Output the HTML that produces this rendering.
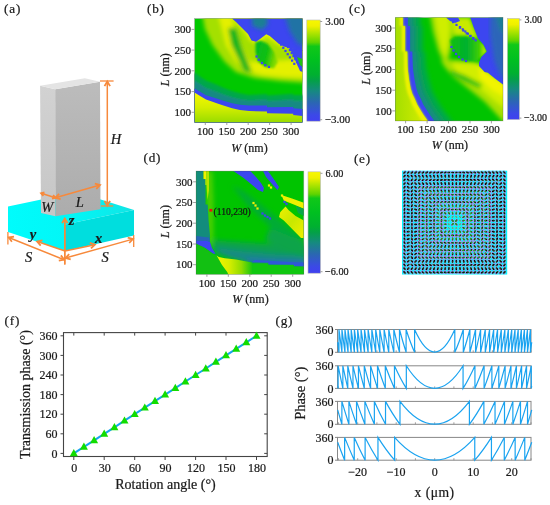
<!DOCTYPE html>
<html><head><meta charset="utf-8"><style>
html,body{margin:0;padding:0;background:#fff;}
svg{display:block;font-family:'Liberation Serif','Times New Roman',serif;fill:#1a1a1a;} text{stroke:#1a1a1a;stroke-width:0.22px;}
</style></head><body>
<svg width="550" height="505" viewBox="0 0 550 505">
<text x="4.1" y="12.9" font-size="13.2" text-anchor="start" letter-spacing="0.8">(a)</text>
<defs><linearGradient id="subt" x1="0" y1="0" x2="1" y2="0"><stop offset="0" stop-color="#00fcfc"/><stop offset="0.55" stop-color="#02f6f6"/><stop offset="1" stop-color="#12e4e4"/></linearGradient></defs>
<polygon points="8,206.5 77,192 134,210 65,224.5 65,251 8,232" fill="url(#subt)"/>
<polygon points="65,224.5 134,210 134,235.5 65,251" fill="#00dede"/>
<defs><linearGradient id="pf" x1="0" y1="0" x2="0" y2="1"><stop offset="0" stop-color="#bcbcbc"/><stop offset="1" stop-color="#acacac"/></linearGradient><linearGradient id="pl" x1="0" y1="0" x2="0" y2="1"><stop offset="0" stop-color="#d2d2d2"/><stop offset="1" stop-color="#c6c6c6"/></linearGradient></defs>
<polygon points="40.1,85.7 55.2,89.3 55.4,216.2 41,213" fill="url(#pl)"/>
<polygon points="55.2,89.3 100,81.8 100.5,209.2 55.4,216.2" fill="url(#pf)"/>
<polygon points="40.1,85.7 84.9,78.2 100,81.8 55.2,89.3" fill="#e4e4e4"/>
<line x1="100" y1="81" x2="113.6" y2="81" stroke="#f7893b" stroke-width="1.3"/>
<line x1="101" y1="206" x2="113.2" y2="206" stroke="#f7893b" stroke-width="1.3"/>
<line x1="107.3" y1="81.5" x2="107.3" y2="205.5" stroke="#f7893b" stroke-width="1.5"/>
<polyline points="104.5,200.9 107.3,205.5 110.1,200.9" fill="none" stroke="#f7893b" stroke-width="1.8" stroke-linejoin="miter"/>
<polyline points="110.1,86.1 107.3,81.5 104.5,86.1" fill="none" stroke="#f7893b" stroke-width="1.8" stroke-linejoin="miter"/>
<line x1="41.1" y1="193.3" x2="55.4" y2="197.7" stroke="#f7893b" stroke-width="1.5"/>
<polyline points="52.0,198.5 55.4,197.7 53.1,195.1" fill="none" stroke="#f7893b" stroke-width="1.8" stroke-linejoin="miter"/>
<polyline points="44.5,192.5 41.1,193.3 43.4,195.9" fill="none" stroke="#f7893b" stroke-width="1.8" stroke-linejoin="miter"/>
<line x1="55.4" y1="197.7" x2="100" y2="185" stroke="#f7893b" stroke-width="1.5"/>
<polyline points="96.3,188.9 100,185 94.8,183.6" fill="none" stroke="#f7893b" stroke-width="1.8" stroke-linejoin="miter"/>
<polyline points="59.1,193.8 55.4,197.7 60.6,199.1" fill="none" stroke="#f7893b" stroke-width="1.8" stroke-linejoin="miter"/>
<line x1="64.8" y1="264.5" x2="64.8" y2="219" stroke="#f7893b" stroke-width="1.3"/>
<line x1="64.8" y1="264.5" x2="64.8" y2="218.5" stroke="#f7893b" stroke-width="1.5"/>
<polyline points="67.6,223.1 64.8,218.5 62.0,223.1" fill="none" stroke="#f7893b" stroke-width="1.8" stroke-linejoin="miter"/>
<line x1="65" y1="251" x2="37.2" y2="241.5" stroke="#f7893b" stroke-width="1.5"/>
<polyline points="42.4,240.4 37.2,241.5 40.7,245.6" fill="none" stroke="#f7893b" stroke-width="1.8" stroke-linejoin="miter"/>
<line x1="65" y1="251" x2="94.9" y2="244.7" stroke="#f7893b" stroke-width="1.5"/>
<polyline points="91.0,248.3 94.9,244.7 89.8,242.9" fill="none" stroke="#f7893b" stroke-width="1.8" stroke-linejoin="miter"/>
<line x1="7.9" y1="232" x2="7.9" y2="244.6" stroke="#f7893b" stroke-width="1.3"/>
<line x1="133.7" y1="235" x2="133.7" y2="247" stroke="#f7893b" stroke-width="1.3"/>
<line x1="8.7" y1="237.5" x2="64.1" y2="259.7" stroke="#f7893b" stroke-width="1.5"/>
<polyline points="58.8,260.6 64.1,259.7 60.9,255.4" fill="none" stroke="#f7893b" stroke-width="1.8" stroke-linejoin="miter"/>
<polyline points="14.0,236.6 8.7,237.5 11.9,241.8" fill="none" stroke="#f7893b" stroke-width="1.8" stroke-linejoin="miter"/>
<line x1="65.5" y1="258" x2="132.9" y2="239.1" stroke="#f7893b" stroke-width="1.5"/>
<polyline points="129.2,243.0 132.9,239.1 127.7,237.7" fill="none" stroke="#f7893b" stroke-width="1.8" stroke-linejoin="miter"/>
<polyline points="69.2,254.1 65.5,258 70.7,259.4" fill="none" stroke="#f7893b" stroke-width="1.8" stroke-linejoin="miter"/>
<text x="116.0" y="144.3" font-size="14.5" text-anchor="middle" font-style="italic" >H</text>
<text x="47.4" y="212.2" font-size="14.5" text-anchor="middle" font-style="italic" >W</text>
<text x="79.8" y="206.5" font-size="14.5" text-anchor="middle" font-style="italic" >L</text>
<text x="71.5" y="225.3" font-size="14.5" text-anchor="middle" font-style="italic" font-weight="bold">z</text>
<text x="33.0" y="239.2" font-size="14.5" text-anchor="middle" font-style="italic" font-weight="bold">y</text>
<text x="98.5" y="242.5" font-size="14.5" text-anchor="middle" font-style="italic" font-weight="bold">x</text>
<text x="28.5" y="261.8" font-size="14.5" text-anchor="middle" font-style="italic" >S</text>
<text x="105.0" y="262.0" font-size="14.5" text-anchor="middle" font-style="italic" >S</text>
<text x="4.6" y="324.9" font-size="13.2" text-anchor="start" letter-spacing="0.8">(f)</text>
<rect x="63.5" y="332.6" width="203.7" height="123.89999999999998" fill="none" stroke="#444" stroke-width="1.1"/>
<line x1="60.5" y1="453.4" x2="63.5" y2="453.4" stroke="#444" stroke-width="1"/>
<line x1="267.2" y1="453.4" x2="264.2" y2="453.4" stroke="#444" stroke-width="1"/>
<text x="57.6" y="457.5" font-size="12" text-anchor="end" >0</text>
<line x1="60.5" y1="433.8" x2="63.5" y2="433.8" stroke="#444" stroke-width="1"/>
<line x1="267.2" y1="433.8" x2="264.2" y2="433.8" stroke="#444" stroke-width="1"/>
<text x="57.6" y="437.9" font-size="12" text-anchor="end" >60</text>
<line x1="60.5" y1="414.2" x2="63.5" y2="414.2" stroke="#444" stroke-width="1"/>
<line x1="267.2" y1="414.2" x2="264.2" y2="414.2" stroke="#444" stroke-width="1"/>
<text x="57.6" y="418.3" font-size="12" text-anchor="end" >120</text>
<line x1="60.5" y1="394.6" x2="63.5" y2="394.6" stroke="#444" stroke-width="1"/>
<line x1="267.2" y1="394.6" x2="264.2" y2="394.6" stroke="#444" stroke-width="1"/>
<text x="57.6" y="398.7" font-size="12" text-anchor="end" >180</text>
<line x1="60.5" y1="375.0" x2="63.5" y2="375.0" stroke="#444" stroke-width="1"/>
<line x1="267.2" y1="375.0" x2="264.2" y2="375.0" stroke="#444" stroke-width="1"/>
<text x="57.6" y="379.1" font-size="12" text-anchor="end" >240</text>
<line x1="60.5" y1="355.4" x2="63.5" y2="355.4" stroke="#444" stroke-width="1"/>
<line x1="267.2" y1="355.4" x2="264.2" y2="355.4" stroke="#444" stroke-width="1"/>
<text x="57.6" y="359.5" font-size="12" text-anchor="end" >300</text>
<line x1="60.5" y1="335.8" x2="63.5" y2="335.8" stroke="#444" stroke-width="1"/>
<line x1="267.2" y1="335.8" x2="264.2" y2="335.8" stroke="#444" stroke-width="1"/>
<text x="57.6" y="339.9" font-size="12" text-anchor="end" >360</text>
<line x1="73.8" y1="456.5" x2="73.8" y2="460.0" stroke="#444" stroke-width="1"/>
<line x1="73.8" y1="332.6" x2="73.8" y2="335.6" stroke="#444" stroke-width="1"/>
<text x="74.2" y="472.3" font-size="12" text-anchor="middle" >0</text>
<line x1="104.2" y1="456.5" x2="104.2" y2="460.0" stroke="#444" stroke-width="1"/>
<line x1="104.2" y1="332.6" x2="104.2" y2="335.6" stroke="#444" stroke-width="1"/>
<text x="104.7" y="472.3" font-size="12" text-anchor="middle" >30</text>
<line x1="134.7" y1="456.5" x2="134.7" y2="460.0" stroke="#444" stroke-width="1"/>
<line x1="134.7" y1="332.6" x2="134.7" y2="335.6" stroke="#444" stroke-width="1"/>
<text x="135.1" y="472.3" font-size="12" text-anchor="middle" >60</text>
<line x1="165.1" y1="456.5" x2="165.1" y2="460.0" stroke="#444" stroke-width="1"/>
<line x1="165.1" y1="332.6" x2="165.1" y2="335.6" stroke="#444" stroke-width="1"/>
<text x="165.5" y="472.3" font-size="12" text-anchor="middle" >90</text>
<line x1="195.6" y1="456.5" x2="195.6" y2="460.0" stroke="#444" stroke-width="1"/>
<line x1="195.6" y1="332.6" x2="195.6" y2="335.6" stroke="#444" stroke-width="1"/>
<text x="196.0" y="472.3" font-size="12" text-anchor="middle" >120</text>
<line x1="226.0" y1="456.5" x2="226.0" y2="460.0" stroke="#444" stroke-width="1"/>
<line x1="226.0" y1="332.6" x2="226.0" y2="335.6" stroke="#444" stroke-width="1"/>
<text x="226.4" y="472.3" font-size="12" text-anchor="middle" >150</text>
<line x1="256.5" y1="456.5" x2="256.5" y2="460.0" stroke="#444" stroke-width="1"/>
<line x1="256.5" y1="332.6" x2="256.5" y2="335.6" stroke="#444" stroke-width="1"/>
<text x="256.9" y="472.3" font-size="12" text-anchor="middle" >180</text>
<polyline points="73.8,453.4 83.9,446.9 94.1,440.3 104.2,433.8 114.4,427.3 124.5,420.7 134.7,414.2 144.8,407.7 155.0,401.1 165.1,394.6 175.3,388.1 185.4,381.5 195.6,375.0 205.8,368.5 215.9,361.9 226.0,355.4 236.2,348.9 246.3,342.3 256.5,335.8" fill="none" stroke="#1aa3f0" stroke-width="2.0"/>
<polygon points="73.8,449.1 77.8,456.3 69.8,456.3" fill="#11dd00"/>
<polygon points="83.9,442.6 87.9,449.8 79.9,449.8" fill="#11dd00"/>
<polygon points="94.1,436.0 98.1,443.2 90.1,443.2" fill="#11dd00"/>
<polygon points="104.2,429.5 108.2,436.7 100.2,436.7" fill="#11dd00"/>
<polygon points="114.4,423.0 118.4,430.2 110.4,430.2" fill="#11dd00"/>
<polygon points="124.5,416.4 128.5,423.6 120.5,423.6" fill="#11dd00"/>
<polygon points="134.7,409.9 138.7,417.1 130.7,417.1" fill="#11dd00"/>
<polygon points="144.8,403.4 148.8,410.6 140.8,410.6" fill="#11dd00"/>
<polygon points="155.0,396.8 159.0,404.0 151.0,404.0" fill="#11dd00"/>
<polygon points="165.1,390.3 169.1,397.5 161.1,397.5" fill="#11dd00"/>
<polygon points="175.3,383.8 179.3,391.0 171.3,391.0" fill="#11dd00"/>
<polygon points="185.4,377.2 189.4,384.4 181.4,384.4" fill="#11dd00"/>
<polygon points="195.6,370.7 199.6,377.9 191.6,377.9" fill="#11dd00"/>
<polygon points="205.8,364.2 209.8,371.4 201.8,371.4" fill="#11dd00"/>
<polygon points="215.9,357.6 219.9,364.8 211.9,364.8" fill="#11dd00"/>
<polygon points="226.0,351.1 230.0,358.3 222.0,358.3" fill="#11dd00"/>
<polygon points="236.2,344.6 240.2,351.8 232.2,351.8" fill="#11dd00"/>
<polygon points="246.3,338.0 250.3,345.2 242.3,345.2" fill="#11dd00"/>
<polygon points="256.5,331.5 260.5,338.7 252.5,338.7" fill="#11dd00"/>
<text x="165.5" y="488.5" font-size="14" text-anchor="middle" >Rotation angle (°)</text>
<text transform="translate(29.5,394.5) rotate(-90)" font-size="14" text-anchor="middle">Transmission phase (°)</text>
<text x="275.5" y="325.0" font-size="13.2" text-anchor="start" letter-spacing="0.8">(g)</text>
<rect x="337.5" y="329.5" width="193.5" height="22.80000000000001" fill="none" stroke="#888" stroke-width="1"/>
<line x1="335.0" y1="329.5" x2="337.5" y2="329.5" stroke="#888" stroke-width="1"/>
<text x="333.5" y="333.6" font-size="12" text-anchor="end" >360</text>
<line x1="335.0" y1="352.3" x2="337.5" y2="352.3" stroke="#888" stroke-width="1"/>
<text x="333.5" y="356.4" font-size="12" text-anchor="end" >0</text>
<line x1="338.4" y1="352.3" x2="338.4" y2="350.3" stroke="#888" stroke-width="0.8"/>
<line x1="357.7" y1="352.3" x2="357.7" y2="350.3" stroke="#888" stroke-width="0.8"/>
<line x1="376.9" y1="352.3" x2="376.9" y2="350.3" stroke="#888" stroke-width="0.8"/>
<line x1="396.2" y1="352.3" x2="396.2" y2="350.3" stroke="#888" stroke-width="0.8"/>
<line x1="415.4" y1="352.3" x2="415.4" y2="350.3" stroke="#888" stroke-width="0.8"/>
<line x1="434.7" y1="352.3" x2="434.7" y2="350.3" stroke="#888" stroke-width="0.8"/>
<line x1="453.9" y1="352.3" x2="453.9" y2="350.3" stroke="#888" stroke-width="0.8"/>
<line x1="473.2" y1="352.3" x2="473.2" y2="350.3" stroke="#888" stroke-width="0.8"/>
<line x1="492.4" y1="352.3" x2="492.4" y2="350.3" stroke="#888" stroke-width="0.8"/>
<line x1="511.7" y1="352.3" x2="511.7" y2="350.3" stroke="#888" stroke-width="0.8"/>
<line x1="531.0" y1="352.3" x2="531.0" y2="350.3" stroke="#888" stroke-width="0.8"/>
<path d="M337.68,342.29Q338.33,347.33 338.97,352.30L338.97,329.50Q340.47,341.08 341.94,352.30L341.94,329.50Q343.46,341.09 344.96,352.30L344.96,329.50Q346.51,341.10 348.04,352.30L348.04,329.50Q349.62,341.11 351.18,352.30L351.18,329.50Q352.80,341.12 354.39,352.30L354.39,329.50Q356.04,341.14 357.67,352.30L357.67,329.50Q359.37,341.16 361.05,352.30L361.05,329.50Q362.80,341.18 364.52,352.30L364.52,329.50Q366.33,341.20 368.11,352.30L368.11,329.50Q369.99,341.23 371.84,352.30L371.84,329.50Q373.80,341.26 375.72,352.30L375.72,329.50Q377.78,341.31 379.81,352.30L379.81,329.50Q381.99,341.37 384.13,352.30L384.13,329.50Q386.48,341.45 388.78,352.30L388.78,329.50Q391.33,341.56 393.83,352.30L393.83,329.50Q396.69,341.75 399.49,352.30L399.49,329.50Q402.83,342.08 406.10,352.30L406.10,329.50Q410.39,342.89 414.59,352.30L414.59,329.50Q434.70,374.62 454.81,329.50L454.81,352.30Q459.01,342.89 463.30,329.50L463.30,352.30Q466.57,342.08 469.91,329.50L469.91,352.30Q472.71,341.75 475.57,329.50L475.57,352.30Q478.07,341.56 480.62,329.50L480.62,352.30Q482.92,341.45 485.27,329.50L485.27,352.30Q487.41,341.37 489.59,329.50L489.59,352.30Q491.62,341.31 493.68,329.50L493.68,352.30Q495.60,341.26 497.56,329.50L497.56,352.30Q499.41,341.23 501.29,329.50L501.29,352.30Q503.07,341.20 504.88,329.50L504.88,352.30Q506.60,341.18 508.35,329.50L508.35,352.30Q510.03,341.16 511.73,329.50L511.73,352.30Q513.36,341.14 515.01,329.50L515.01,352.30Q516.60,341.12 518.22,329.50L518.22,352.30Q519.78,341.11 521.36,329.50L521.36,352.30Q522.89,341.10 524.44,329.50L524.44,352.30Q525.94,341.09 527.46,329.50L527.46,352.30Q528.93,341.08 530.43,329.50L530.43,352.30Q531.07,347.33 531.72,342.29" fill="none" stroke="#1aa3f0" stroke-width="1.2"/>
<rect x="337.5" y="365.8" width="193.5" height="22.599999999999966" fill="none" stroke="#888" stroke-width="1"/>
<line x1="335.0" y1="365.8" x2="337.5" y2="365.8" stroke="#888" stroke-width="1"/>
<text x="333.5" y="369.9" font-size="12" text-anchor="end" >360</text>
<line x1="335.0" y1="388.4" x2="337.5" y2="388.4" stroke="#888" stroke-width="1"/>
<text x="333.5" y="392.5" font-size="12" text-anchor="end" >0</text>
<line x1="338.4" y1="388.4" x2="338.4" y2="386.4" stroke="#888" stroke-width="0.8"/>
<line x1="357.7" y1="388.4" x2="357.7" y2="386.4" stroke="#888" stroke-width="0.8"/>
<line x1="376.9" y1="388.4" x2="376.9" y2="386.4" stroke="#888" stroke-width="0.8"/>
<line x1="396.2" y1="388.4" x2="396.2" y2="386.4" stroke="#888" stroke-width="0.8"/>
<line x1="415.4" y1="388.4" x2="415.4" y2="386.4" stroke="#888" stroke-width="0.8"/>
<line x1="434.7" y1="388.4" x2="434.7" y2="386.4" stroke="#888" stroke-width="0.8"/>
<line x1="453.9" y1="388.4" x2="453.9" y2="386.4" stroke="#888" stroke-width="0.8"/>
<line x1="473.2" y1="388.4" x2="473.2" y2="386.4" stroke="#888" stroke-width="0.8"/>
<line x1="492.4" y1="388.4" x2="492.4" y2="386.4" stroke="#888" stroke-width="0.8"/>
<line x1="511.7" y1="388.4" x2="511.7" y2="386.4" stroke="#888" stroke-width="0.8"/>
<line x1="531.0" y1="388.4" x2="531.0" y2="386.4" stroke="#888" stroke-width="0.8"/>
<path d="M337.68,386.25Q337.90,387.33 338.12,388.40L338.12,365.80Q340.50,377.38 342.85,388.40L342.85,365.80Q345.33,377.41 347.79,388.40L347.79,365.80Q350.39,377.45 352.97,388.40L352.97,365.80Q355.72,377.49 358.45,388.40L358.45,365.80Q361.38,377.55 364.29,388.40L364.29,365.80Q367.45,377.63 370.59,388.40L370.59,365.80Q374.07,377.74 377.51,388.40L377.51,365.80Q381.43,377.93 385.30,388.40L385.30,365.80Q389.91,378.26 394.47,388.40L394.47,365.80Q400.43,379.05 406.33,388.40L406.33,365.80Q434.70,410.76 463.07,365.80L463.07,388.40Q468.97,379.05 474.93,365.80L474.93,388.40Q479.49,378.26 484.10,365.80L484.10,388.40Q487.97,377.93 491.89,365.80L491.89,388.40Q495.33,377.74 498.81,365.80L498.81,388.40Q501.95,377.63 505.11,365.80L505.11,388.40Q508.02,377.55 510.95,365.80L510.95,388.40Q513.68,377.49 516.43,365.80L516.43,388.40Q519.01,377.45 521.61,365.80L521.61,388.40Q524.07,377.41 526.55,365.80L526.55,388.40Q528.90,377.38 531.28,365.80L531.28,388.40Q531.50,387.33 531.72,386.25" fill="none" stroke="#1aa3f0" stroke-width="1.2"/>
<rect x="337.5" y="401.4" width="193.5" height="22.900000000000034" fill="none" stroke="#888" stroke-width="1"/>
<line x1="335.0" y1="401.4" x2="337.5" y2="401.4" stroke="#888" stroke-width="1"/>
<text x="333.5" y="405.5" font-size="12" text-anchor="end" >360</text>
<line x1="335.0" y1="424.3" x2="337.5" y2="424.3" stroke="#888" stroke-width="1"/>
<text x="333.5" y="428.4" font-size="12" text-anchor="end" >0</text>
<line x1="338.4" y1="424.3" x2="338.4" y2="422.3" stroke="#888" stroke-width="0.8"/>
<line x1="357.7" y1="424.3" x2="357.7" y2="422.3" stroke="#888" stroke-width="0.8"/>
<line x1="376.9" y1="424.3" x2="376.9" y2="422.3" stroke="#888" stroke-width="0.8"/>
<line x1="396.2" y1="424.3" x2="396.2" y2="422.3" stroke="#888" stroke-width="0.8"/>
<line x1="415.4" y1="424.3" x2="415.4" y2="422.3" stroke="#888" stroke-width="0.8"/>
<line x1="434.7" y1="424.3" x2="434.7" y2="422.3" stroke="#888" stroke-width="0.8"/>
<line x1="453.9" y1="424.3" x2="453.9" y2="422.3" stroke="#888" stroke-width="0.8"/>
<line x1="473.2" y1="424.3" x2="473.2" y2="422.3" stroke="#888" stroke-width="0.8"/>
<line x1="492.4" y1="424.3" x2="492.4" y2="422.3" stroke="#888" stroke-width="0.8"/>
<line x1="511.7" y1="424.3" x2="511.7" y2="422.3" stroke="#888" stroke-width="0.8"/>
<line x1="531.0" y1="424.3" x2="531.0" y2="422.3" stroke="#888" stroke-width="0.8"/>
<path d="M337.68,409.86Q339.78,417.24 341.88,424.30L341.88,401.40Q345.41,413.30 348.91,424.30L348.91,401.40Q352.73,413.38 356.53,424.30L356.53,401.40Q360.73,413.50 364.90,424.30L364.90,401.40Q369.65,413.68 374.36,424.30L374.36,401.40Q379.96,414.02 385.52,424.30L385.52,401.40Q392.78,414.82 399.99,424.30L399.99,401.40Q434.70,447.04 469.41,401.40L469.41,424.30Q476.62,414.82 483.88,401.40L483.88,424.30Q489.44,414.02 495.04,401.40L495.04,424.30Q499.75,413.68 504.50,401.40L504.50,424.30Q508.67,413.50 512.87,401.40L512.87,424.30Q516.67,413.38 520.49,401.40L520.49,424.30Q523.99,413.30 527.52,401.40L527.52,424.30Q529.62,417.24 531.72,409.86" fill="none" stroke="#1aa3f0" stroke-width="1.2"/>
<rect x="337.5" y="437.4" width="193.5" height="22.80000000000001" fill="none" stroke="#888" stroke-width="1"/>
<line x1="335.0" y1="437.4" x2="337.5" y2="437.4" stroke="#888" stroke-width="1"/>
<text x="333.5" y="441.5" font-size="12" text-anchor="end" >360</text>
<line x1="335.0" y1="460.2" x2="337.5" y2="460.2" stroke="#888" stroke-width="1"/>
<text x="333.5" y="464.3" font-size="12" text-anchor="end" >0</text>
<line x1="338.4" y1="460.2" x2="338.4" y2="458.2" stroke="#888" stroke-width="0.8"/>
<line x1="357.7" y1="460.2" x2="357.7" y2="458.2" stroke="#888" stroke-width="0.8"/>
<line x1="376.9" y1="460.2" x2="376.9" y2="458.2" stroke="#888" stroke-width="0.8"/>
<line x1="396.2" y1="460.2" x2="396.2" y2="458.2" stroke="#888" stroke-width="0.8"/>
<line x1="415.4" y1="460.2" x2="415.4" y2="458.2" stroke="#888" stroke-width="0.8"/>
<line x1="434.7" y1="460.2" x2="434.7" y2="458.2" stroke="#888" stroke-width="0.8"/>
<line x1="453.9" y1="460.2" x2="453.9" y2="458.2" stroke="#888" stroke-width="0.8"/>
<line x1="473.2" y1="460.2" x2="473.2" y2="458.2" stroke="#888" stroke-width="0.8"/>
<line x1="492.4" y1="460.2" x2="492.4" y2="458.2" stroke="#888" stroke-width="0.8"/>
<line x1="511.7" y1="460.2" x2="511.7" y2="458.2" stroke="#888" stroke-width="0.8"/>
<line x1="531.0" y1="460.2" x2="531.0" y2="458.2" stroke="#888" stroke-width="0.8"/>
<path d="M337.68,442.20Q341.16,451.53 344.63,460.20L344.63,437.40Q349.45,449.44 354.25,460.20L354.25,437.40Q359.70,449.63 365.12,460.20L365.12,437.40Q371.56,449.96 377.96,460.20L377.96,437.40Q386.32,450.76 394.64,460.20L394.64,437.40Q434.70,482.88 474.76,437.40L474.76,460.20Q483.08,450.76 491.44,437.40L491.44,460.20Q497.84,449.96 504.28,437.40L504.28,460.20Q509.70,449.63 515.15,437.40L515.15,460.20Q519.95,449.44 524.77,437.40L524.77,460.20Q528.24,451.53 531.72,442.20" fill="none" stroke="#1aa3f0" stroke-width="1.2"/>
<text x="357.7" y="476.0" font-size="12" text-anchor="middle" >−20</text>
<text x="396.2" y="476.0" font-size="12" text-anchor="middle" >−10</text>
<text x="434.7" y="476.0" font-size="12" text-anchor="middle" >0</text>
<text x="473.2" y="476.0" font-size="12" text-anchor="middle" >10</text>
<text x="511.7" y="476.0" font-size="12" text-anchor="middle" >20</text>
<text x="434.5" y="497.3" font-size="13.6" text-anchor="middle" letter-spacing="0.45">x (μm)</text>
<text transform="translate(305.3,393.2) rotate(-90)" font-size="14.6" text-anchor="middle">Phase (°)</text>
<defs><filter id="blb" x="-10%" y="-10%" width="120%" height="120%"><feGaussianBlur stdDeviation="2.0"/></filter><filter id="blb2" x="-10%" y="-10%" width="120%" height="120%"><feGaussianBlur stdDeviation="1.2"/></filter><linearGradient id="bell" x1="0" y1="0" x2="1" y2="0.3"><stop offset="0" stop-color="#00b828"/><stop offset="0.6" stop-color="#10c010"/><stop offset="1" stop-color="#80da00"/></linearGradient><linearGradient id="byel" x1="0" y1="0" x2="0" y2="1"><stop offset="0" stop-color="#f8f800"/><stop offset="0.5" stop-color="#d4ee00"/><stop offset="1" stop-color="#98dc00"/></linearGradient></defs>
<svg x="194.5" y="18.5" width="108.0" height="104.0" viewBox="194.5 18.5 108.0 104.0" overflow="hidden">
<rect x="194.5" y="18.5" width="108.0" height="104.0" fill="#00c800"/>
<g filter="url(#blb)">
<polygon points="202.0,10.0 203.0,18.5 205.0,29.0 212.5,45.0 224.5,61.6 236.0,72.0 255.0,78.0 280.0,81.0 310.0,83.0 310.0,10.0" fill="#a4e000"/>
<polygon points="218.0,10.0 219.0,18.5 222.0,29.0 226.0,45.0 236.0,61.6 246.0,70.0 262.0,75.0 285.0,77.0 310.0,78.0 310.0,60.0 290.0,60.0 262.0,62.0 250.0,62.0 244.0,50.0 236.0,34.0 232.0,18.5 232.0,10.0" fill="#e4f000"/>
<polygon points="226.0,10.0 234.0,18.5 240.0,26.0 246.0,33.0 250.0,40.0 256.0,43.0 262.0,40.0 266.0,36.0 280.0,45.0 300.0,52.0 310.0,54.0 310.0,10.0" fill="#eef400"/>
<polygon points="228.0,28.0 236.0,28.0 241.0,45.0 247.5,61.6 252.0,72.0 245.0,72.0 239.5,61.6 231.5,45.0" fill="#08b41a"/>
</g>
<polygon points="255.5,42.3 260.9,40.7 267.5,43.8 274.0,52.1 277.7,61.9 274.0,68.5 265.3,66.9 258.1,61.3 255.5,52.1" fill="url(#bell)" filter="url(#blb2)"/>
<rect x="255.5" y="55.4" width="2.2" height="2.2" fill="#3c46f0"/>
<rect x="257.6" y="58.6" width="2.2" height="2.2" fill="#3c46f0"/>
<rect x="260.9" y="61.9" width="2.2" height="2.2" fill="#3c46f0"/>
<rect x="264.2" y="64.1" width="2.2" height="2.2" fill="#3c46f0"/>
<rect x="267.9" y="65.8" width="2.2" height="2.2" fill="#3c46f0"/>
<polygon points="289.0,47.5 302.5,50.0 302.5,72.0 300.0,71.0 296.0,62.0 292.0,53.0" fill="#3c46f0"/>
<polygon points="297.0,57.0 302.5,59.0 302.5,67.0 300.0,65.0" fill="#20c410"/>
<rect x="280.0" y="43.5" width="2.2" height="2.2" fill="#3c46f0"/>
<rect x="287.0" y="46.0" width="2.2" height="2.2" fill="#3c46f0"/>
<rect x="282.2" y="46.7" width="2.2" height="2.2" fill="#3c46f0"/>
<rect x="288.8" y="49.0" width="2.2" height="2.2" fill="#3c46f0"/>
<rect x="284.4" y="49.9" width="2.2" height="2.2" fill="#3c46f0"/>
<rect x="290.6" y="52.0" width="2.2" height="2.2" fill="#3c46f0"/>
<rect x="286.6" y="53.1" width="2.2" height="2.2" fill="#3c46f0"/>
<rect x="292.4" y="55.0" width="2.2" height="2.2" fill="#3c46f0"/>
<rect x="288.8" y="56.3" width="2.2" height="2.2" fill="#3c46f0"/>
<rect x="294.2" y="58.0" width="2.2" height="2.2" fill="#3c46f0"/>
<rect x="291.0" y="59.5" width="2.2" height="2.2" fill="#3c46f0"/>
<rect x="296.0" y="61.0" width="2.2" height="2.2" fill="#3c46f0"/>
<rect x="293.2" y="62.7" width="2.2" height="2.2" fill="#3c46f0"/>
<rect x="297.8" y="64.0" width="2.2" height="2.2" fill="#3c46f0"/>
<polygon points="232.0,18.5 236.0,22.0 240.0,26.0 244.0,30.0 248.0,34.0 251.5,40.6 256.0,41.7 260.0,38.9 266.3,34.3 269.8,36.0 274.4,40.0 279.0,44.0 284.0,46.5 289.0,48.0 296.0,49.5 302.5,50.9 302.5,18.5" fill="#3c46f0"/>
<g filter="url(#blb)" opacity="0.85"><polygon points="252.0,14.0 266.0,14.0 268.0,24.0 262.0,30.0 252.0,26.0" fill="#168a84"/><polygon points="284.0,14.0 310.0,14.0 310.0,48.0 298.0,44.0 290.0,32.0" fill="#1f7c98"/></g>
<g filter="url(#blb2)">
<polygon points="188.0,72.5 194.5,72.5 200.5,76.7 206.0,80.4 212.5,83.1 217.4,85.1 223.4,87.7 232.1,91.1 239.8,93.3 249.0,95.0 267.0,93.9 267.0,95.5 293.2,93.7 293.2,94.9 302.5,95.0 310.0,95.0 310.0,130.0 188.0,130.0" fill="#06a84a"/>
<polygon points="188.0,80.5 194.5,80.5 200.5,84.5 206.0,87.9 212.5,90.3 217.4,92.0 223.4,94.4 232.1,97.3 239.8,99.2 249.0,100.5 267.0,99.6 267.0,101.2 293.2,99.6 293.2,100.8 302.5,101.0 310.0,101.0 310.0,130.0 188.0,130.0" fill="#168a84"/>
</g>
<polygon points="188.0,88.5 194.5,88.5 200.5,92.1 206.0,95.3 212.5,97.3 217.4,98.8 223.4,100.8 232.1,103.3 239.8,104.8 249.0,105.5 267.0,105.6 267.0,107.2 293.2,107.1 293.2,108.3 302.5,109.0 310.0,109.0 310.0,130.0 188.0,130.0" fill="#3c46f0"/>
<polygon points="194.5,92.5 200.5,96.3 206.0,99.6 212.5,101.8 217.4,103.4 223.4,105.6 232.1,108.3 239.8,110.0 249.0,111.0 267.0,111.6 267.0,113.2 293.2,113.8 293.2,115.0 302.5,116.0 302.5,122.5 194.5,122.5" fill="url(#byel)"/>
</svg>
<text x="147.0" y="13.1" font-size="13.2" text-anchor="start" letter-spacing="0.8">(b)</text>
<rect x="194.5" y="18.5" width="108.0" height="104.0" fill="none" stroke="#444" stroke-opacity="0.45" stroke-width="0.6"/>
<line x1="205.3" y1="122.5" x2="205.3" y2="125.0" stroke="#888" stroke-width="0.8"/>
<text x="205.3" y="135.2" font-size="11" text-anchor="middle" >100</text>
<line x1="226.8" y1="122.5" x2="226.8" y2="125.0" stroke="#888" stroke-width="0.8"/>
<text x="226.8" y="135.2" font-size="11" text-anchor="middle" >150</text>
<line x1="248.2" y1="122.5" x2="248.2" y2="125.0" stroke="#888" stroke-width="0.8"/>
<text x="248.2" y="135.2" font-size="11" text-anchor="middle" >200</text>
<line x1="269.6" y1="122.5" x2="269.6" y2="125.0" stroke="#888" stroke-width="0.8"/>
<text x="269.6" y="135.2" font-size="11" text-anchor="middle" >250</text>
<line x1="291.1" y1="122.5" x2="291.1" y2="125.0" stroke="#888" stroke-width="0.8"/>
<text x="291.1" y="135.2" font-size="11" text-anchor="middle" >300</text>
<line x1="191.5" y1="112.3" x2="194.5" y2="112.3" stroke="#888" stroke-width="0.8"/>
<text x="190.9" y="116.0" font-size="11" text-anchor="end" >100</text>
<line x1="191.5" y1="91.6" x2="194.5" y2="91.6" stroke="#888" stroke-width="0.8"/>
<text x="190.9" y="95.3" font-size="11" text-anchor="end" >150</text>
<line x1="191.5" y1="70.8" x2="194.5" y2="70.8" stroke="#888" stroke-width="0.8"/>
<text x="190.9" y="74.5" font-size="11" text-anchor="end" >200</text>
<line x1="191.5" y1="50.1" x2="194.5" y2="50.1" stroke="#888" stroke-width="0.8"/>
<text x="190.9" y="53.8" font-size="11" text-anchor="end" >250</text>
<line x1="191.5" y1="29.4" x2="194.5" y2="29.4" stroke="#888" stroke-width="0.8"/>
<text x="190.9" y="33.1" font-size="11" text-anchor="end" >300</text>
<text x="249.5" y="151.6" font-size="12" text-anchor="middle"><tspan font-style="italic">W</tspan> (nm)</text>
<text transform="translate(168.6,69.8) rotate(-90)" font-size="12" text-anchor="middle"><tspan font-style="italic">L</tspan> (nm)</text>
<defs><linearGradient id="cb1" x1="0" y1="0" x2="0" y2="1"><stop offset="0.00" stop-color="#f8f800"/><stop offset="0.06" stop-color="#f0f000"/><stop offset="0.12" stop-color="#b8e600"/><stop offset="0.22" stop-color="#60d400"/><stop offset="0.26" stop-color="#10c818"/><stop offset="0.40" stop-color="#00c020"/><stop offset="0.54" stop-color="#00b030"/><stop offset="0.60" stop-color="#04a048"/><stop offset="0.70" stop-color="#168a80"/><stop offset="0.81" stop-color="#2a68b0"/><stop offset="0.94" stop-color="#3c48e8"/><stop offset="1.00" stop-color="#4040f0"/></linearGradient></defs>
<rect x="306.8" y="20" width="13.4" height="101.2" fill="url(#cb1)" stroke="#bbb" stroke-width="0.6"/>
<line x1="320.2" y1="21.5" x2="322.2" y2="21.5" stroke="#888" stroke-width="0.8"/>
<line x1="320.2" y1="119.7" x2="322.2" y2="119.7" stroke="#888" stroke-width="0.8"/>
<text x="325.2" y="25.1" font-size="11" text-anchor="start" >3.00</text>
<text x="324.7" y="123.3" font-size="11" text-anchor="start" >−3.00</text>
<defs><filter id="blc" x="-10%" y="-10%" width="120%" height="120%"><feGaussianBlur stdDeviation="2.2"/></filter><filter id="blc2" x="-10%" y="-10%" width="120%" height="120%"><feGaussianBlur stdDeviation="1.0"/></filter><linearGradient id="cyl" x1="0" y1="0" x2="1" y2="0"><stop offset="0" stop-color="#9cdc00"/><stop offset="1" stop-color="#d8ee00"/></linearGradient><linearGradient id="ceye" x1="0" y1="0" x2="1" y2="0"><stop offset="0" stop-color="#10c010"/><stop offset="0.45" stop-color="#00b030"/><stop offset="0.8" stop-color="#40d000"/><stop offset="1" stop-color="#e0f000"/></linearGradient></defs>
<svg x="395.3" y="17.4" width="107.69999999999999" height="103.5" viewBox="395.3 17.4 107.69999999999999 103.5" overflow="hidden">
<rect x="395.3" y="17.4" width="107.69999999999999" height="103.5" fill="#00c400"/>
<g filter="url(#blc)">
<polygon points="429.0,10.0 452.0,10.0 454.0,30.0 452.0,45.0 448.0,62.0 444.0,64.0 438.0,50.0 433.0,32.0" fill="#9ade00"/>
<polygon points="434.0,10.0 449.0,10.0 450.0,30.0 448.0,45.0 446.0,58.0 441.0,48.0 437.0,30.0" fill="#cfee00"/>
<polygon points="441.0,60.0 456.0,60.0 476.0,62.0 486.0,70.0 510.0,86.0 510.0,130.0 500.0,118.0 485.0,102.0 469.0,89.0 452.5,76.0 444.0,66.0" fill="#a6e000"/>
<polygon points="452.0,63.0 476.0,63.0 486.0,70.0 510.0,86.0 510.0,112.0 496.0,102.0 482.0,90.0 466.0,80.0 455.0,70.0" fill="#d2ee00"/>
<polygon points="478.0,62.0 487.0,72.0 510.0,86.0 510.0,100.0 492.0,90.0 480.0,78.0" fill="#f2f400"/>
<polygon points="451.0,70.0 465.0,75.5 482.0,84.5 480.0,88.0 463.0,81.0 451.0,74.0" fill="#10c010"/>
<polygon points="452.0,17.0 470.0,17.0 478.0,36.0 486.0,50.0 480.0,40.0 466.0,36.0 454.0,36.0" fill="#c8ea00"/>
<polygon points="402.9,10.0 402.9,26.0 405.1,26.0 405.1,51.5 407.3,51.5 407.6,66.0 407.9,70.4 409.0,79.3 410.6,88.2 412.3,93.7 414.5,98.2 417.3,104.8 420.6,110.3 423.4,114.8 427.3,120.3 428.0,125.0 452.8,125.0 451.6,120.3 447.2,114.8 443.9,110.3 440.0,104.8 436.5,98.2 433.8,93.7 431.6,88.2 429.0,79.3 427.0,70.4 426.2,66.0 425.3,51.5 423.1,51.5 423.1,26.0 420.9,26.0 420.9,10.0" fill="#04ac44"/>
<polygon points="402.9,10.0 402.9,26.0 405.1,26.0 405.1,51.5 407.3,51.5 407.6,66.0 407.9,70.4 409.0,79.3 410.6,88.2 412.3,93.7 414.5,98.2 417.3,104.8 420.6,110.3 423.4,114.8 427.3,120.3 428.0,125.0 445.9,125.0 444.9,120.3 440.6,114.8 437.4,110.3 433.7,104.8 430.4,98.2 427.9,93.7 425.7,88.2 423.5,79.3 421.7,70.4 421.1,66.0 420.3,51.5 418.1,51.5 418.1,26.0 415.9,26.0 415.9,10.0" fill="#0a9c5c"/>
<polygon points="402.9,10.0 402.9,26.0 405.1,26.0 405.1,51.5 407.3,51.5 407.6,66.0 407.9,70.4 409.0,79.3 410.6,88.2 412.3,93.7 414.5,98.2 417.3,104.8 420.6,110.3 423.4,114.8 427.3,120.3 428.0,125.0 440.4,125.0 439.5,120.3 435.3,114.8 432.2,110.3 428.7,104.8 425.5,98.2 423.1,93.7 421.1,88.2 419.0,79.3 417.4,70.4 416.9,66.0 416.3,51.5 414.1,51.5 414.1,26.0 411.9,26.0 411.9,10.0" fill="#168a84"/>
</g>
<polygon points="402.9,10.0 402.9,26.0 405.1,26.0 405.1,51.5 407.3,51.5 407.6,66.0 407.9,70.4 409.0,79.3 410.6,88.2 412.3,93.7 414.5,98.2 417.3,104.8 420.6,110.3 423.4,114.8 427.3,120.3 428.0,125.0 434.6,125.0 433.8,120.3 429.8,114.8 426.9,110.3 423.4,104.8 420.5,98.2 418.1,93.7 416.3,88.2 414.5,79.3 413.2,70.4 412.8,66.0 412.3,51.5 410.1,51.5 410.1,26.0 407.9,26.0 407.9,10.0" fill="#3c46f0"/>
<polygon points="390.0,10.0 402.9,10.0 402.9,26.0 405.1,26.0 405.1,51.5 407.3,51.5 407.6,66.0 407.9,70.4 409.0,79.3 410.6,88.2 412.3,93.7 414.5,98.2 417.3,104.8 420.6,110.3 423.4,114.8 427.3,120.3 428.0,125.0 390.0,125.0" fill="url(#cyl)"/>
<polygon points="402.9,10.0 402.9,26.0 405.1,26.0 405.1,51.5 407.3,51.5 407.6,66.0 407.9,70.4 409.0,79.3 410.6,88.2 412.3,93.7 414.5,98.2 417.3,104.8 420.6,110.3 423.4,114.8 427.3,120.3 428.0,125.0 422.2,125.0 421.7,120.3 418.0,114.8 415.4,110.3 412.3,104.8 409.8,98.2 407.8,93.7 406.3,88.2 405.0,79.3 404.3,70.4 404.2,66.0 404.1,51.5 401.9,51.5 401.9,26.0 399.7,26.0 399.7,10.0" fill="#f0f200" filter="url(#blc2)"/>
<polygon points="450.0,40.0 451.7,46.5 455.0,53.0 459.8,57.9 466.3,60.8 476.9,61.1 482.6,56.3 486.7,51.4 484.0,45.0 478.0,39.5 466.0,37.0 455.0,37.5" fill="url(#ceye)" filter="url(#blc2)"/>
<rect x="450.4" y="45.9" width="2.2" height="2.2" fill="#3c46f0"/>
<rect x="452.4" y="49.4" width="2.2" height="2.2" fill="#3c46f0"/>
<rect x="454.9" y="52.9" width="2.2" height="2.2" fill="#3c46f0"/>
<rect x="457.9" y="55.9" width="2.2" height="2.2" fill="#3c46f0"/>
<rect x="461.4" y="58.4" width="2.2" height="2.2" fill="#3c46f0"/>
<rect x="464.9" y="59.9" width="2.2" height="2.2" fill="#3c46f0"/>
<polygon points="446.0,17.4 458.0,17.4 460.0,21.0 455.0,23.0 450.0,21.0" fill="#3c46f0"/>
<polygon points="470.2,17.4 473.5,27.1 477.9,38.2 483.5,44.8 486.8,51.5 481.3,57.0 479.0,62.6 479.0,65.9 484.6,72.0 487.9,72.7 494.6,78.2 503.0,84.6 503.0,17.4" fill="#3c46f0"/>
<g filter="url(#blc)" opacity="0.85"><polygon points="490.0,10.0 510.0,10.0 510.0,80.0 500.0,76.0 494.0,60.0 490.0,35.0" fill="#2a6cb0"/><polygon points="494.0,10.0 510.0,10.0 510.0,40.0 500.0,30.0" fill="#168a84"/></g>
<rect x="452.0" y="21.0" width="2.2" height="2.2" fill="#3c46f0"/>
<rect x="459.0" y="26.0" width="2.2" height="2.2" fill="#3c46f0"/>
<rect x="455.4" y="23.8" width="2.2" height="2.2" fill="#3c46f0"/>
<rect x="461.6" y="28.2" width="2.2" height="2.2" fill="#3c46f0"/>
<rect x="458.8" y="26.6" width="2.2" height="2.2" fill="#3c46f0"/>
<rect x="464.2" y="30.4" width="2.2" height="2.2" fill="#3c46f0"/>
<rect x="462.2" y="29.4" width="2.2" height="2.2" fill="#3c46f0"/>
<rect x="466.8" y="32.6" width="2.2" height="2.2" fill="#3c46f0"/>
<rect x="465.6" y="32.2" width="2.2" height="2.2" fill="#3c46f0"/>
<rect x="469.4" y="34.8" width="2.2" height="2.2" fill="#3c46f0"/>
<rect x="469.0" y="35.0" width="2.2" height="2.2" fill="#3c46f0"/>
<rect x="472.0" y="37.0" width="2.2" height="2.2" fill="#3c46f0"/>
<rect x="472.4" y="37.8" width="2.2" height="2.2" fill="#3c46f0"/>
<rect x="474.6" y="39.2" width="2.2" height="2.2" fill="#3c46f0"/>
</svg>
<text x="348.9" y="13.1" font-size="13.2" text-anchor="start" letter-spacing="0.8">(c)</text>
<rect x="395.3" y="17.4" width="107.7" height="103.5" fill="none" stroke="#444" stroke-opacity="0.45" stroke-width="0.6"/>
<line x1="405.6" y1="120.9" x2="405.6" y2="123.4" stroke="#888" stroke-width="0.8"/>
<text x="405.6" y="133.4" font-size="11" text-anchor="middle" >100</text>
<line x1="427.1" y1="120.9" x2="427.1" y2="123.4" stroke="#888" stroke-width="0.8"/>
<text x="427.1" y="133.4" font-size="11" text-anchor="middle" >150</text>
<line x1="448.5" y1="120.9" x2="448.5" y2="123.4" stroke="#888" stroke-width="0.8"/>
<text x="448.5" y="133.4" font-size="11" text-anchor="middle" >200</text>
<line x1="470.0" y1="120.9" x2="470.0" y2="123.4" stroke="#888" stroke-width="0.8"/>
<text x="470.0" y="133.4" font-size="11" text-anchor="middle" >250</text>
<line x1="491.4" y1="120.9" x2="491.4" y2="123.4" stroke="#888" stroke-width="0.8"/>
<text x="491.4" y="133.4" font-size="11" text-anchor="middle" >300</text>
<line x1="392.3" y1="110.9" x2="395.3" y2="110.9" stroke="#888" stroke-width="0.8"/>
<text x="391.7" y="114.6" font-size="11" text-anchor="end" >100</text>
<line x1="392.3" y1="90.2" x2="395.3" y2="90.2" stroke="#888" stroke-width="0.8"/>
<text x="391.7" y="93.9" font-size="11" text-anchor="end" >150</text>
<line x1="392.3" y1="69.5" x2="395.3" y2="69.5" stroke="#888" stroke-width="0.8"/>
<text x="391.7" y="73.2" font-size="11" text-anchor="end" >200</text>
<line x1="392.3" y1="48.7" x2="395.3" y2="48.7" stroke="#888" stroke-width="0.8"/>
<text x="391.7" y="52.4" font-size="11" text-anchor="end" >250</text>
<line x1="392.3" y1="28.0" x2="395.3" y2="28.0" stroke="#888" stroke-width="0.8"/>
<text x="391.7" y="31.7" font-size="11" text-anchor="end" >300</text>
<text x="449.9" y="149.3" font-size="12" text-anchor="middle"><tspan font-style="italic">W</tspan> (nm)</text>
<text transform="translate(369.6,68.3) rotate(-90)" font-size="12" text-anchor="middle"><tspan font-style="italic">L</tspan> (nm)</text>
<defs><linearGradient id="cb2" x1="0" y1="0" x2="0" y2="1"><stop offset="0.00" stop-color="#f8f800"/><stop offset="0.06" stop-color="#f0f000"/><stop offset="0.12" stop-color="#b8e600"/><stop offset="0.22" stop-color="#60d400"/><stop offset="0.26" stop-color="#10c818"/><stop offset="0.40" stop-color="#00c020"/><stop offset="0.54" stop-color="#00b030"/><stop offset="0.60" stop-color="#04a048"/><stop offset="0.70" stop-color="#168a80"/><stop offset="0.81" stop-color="#2a68b0"/><stop offset="0.94" stop-color="#3c48e8"/><stop offset="1.00" stop-color="#4040f0"/></linearGradient></defs>
<rect x="507.4" y="18.4" width="12.0" height="101.2" fill="url(#cb2)" stroke="#bbb" stroke-width="0.6"/>
<line x1="519.4" y1="19.9" x2="521.4" y2="19.9" stroke="#888" stroke-width="0.8"/>
<line x1="519.4" y1="118.1" x2="521.4" y2="118.1" stroke="#888" stroke-width="0.8"/>
<text x="524.4" y="23.2" font-size="10" text-anchor="start" >3.00</text>
<text x="523.9" y="121.4" font-size="10" text-anchor="start" >−3.00</text>
<defs><filter id="bld" x="-10%" y="-10%" width="120%" height="120%"><feGaussianBlur stdDeviation="2.5"/></filter><linearGradient id="dyw" x1="0" y1="0" x2="1" y2="0"><stop offset="0" stop-color="#f4f400"/><stop offset="0.35" stop-color="#d8ee00"/><stop offset="0.7" stop-color="#90dc00"/><stop offset="1" stop-color="#18c810"/></linearGradient><linearGradient id="dyr" x1="0" y1="0" x2="1" y2="1"><stop offset="0" stop-color="#f0f000"/><stop offset="0.5" stop-color="#c8e800"/><stop offset="1" stop-color="#f0f000"/></linearGradient></defs>
<svg x="196.1" y="171.1" width="107.70000000000002" height="103.20000000000002" viewBox="196.1 171.1 107.70000000000002 103.20000000000002" overflow="hidden">
<rect x="196.1" y="171.1" width="107.70000000000002" height="103.20000000000002" fill="#00c400"/>
<g filter="url(#bld)">
<polygon points="213.0,240.0 240.0,242.0 270.0,244.0 310.0,246.0 310.0,268.0 293.9,266.6 268.4,264.9 249.0,263.2 230.0,258.0 213.0,252.0" fill="#07a050"/>
<polygon points="218.0,248.0 240.0,251.0 270.0,254.0 310.0,256.0 310.0,266.6 293.9,266.6 268.4,264.9 249.0,263.2 230.0,258.0 216.0,252.0" fill="#168a84"/>
<polygon points="245.0,259.5 270.0,261.0 310.0,262.0 310.0,266.6 293.9,266.6 268.4,264.9 249.0,263.2" fill="#2a60c8"/>
<polygon points="232.0,186.0 242.0,190.0 270.0,212.0 300.0,236.0 300.0,246.0 280.0,236.0 250.0,208.0" fill="#06ac36"/>
<polygon points="206.0,171.0 212.0,171.0 213.0,200.0 213.0,235.0 211.0,248.0 208.0,240.0 207.0,200.0" fill="#58d200"/>
<polygon points="270.0,228.0 290.0,236.0 304.0,240.0 304.0,258.0 285.0,250.0 265.0,240.0" fill="#08a448"/>
</g>
<polygon points="249.0,263.2 268.4,263.2 268.4,264.9 293.9,264.9 293.9,266.6 304.0,266.6 304.0,275.0 249.0,275.0" fill="#10c810"/>
<polygon points="252.0,262.0 268.4,262.6 268.4,264.3 293.9,264.4 293.9,266.1 304.0,266.2 304.0,262.5 293.9,262.3 268.4,260.8 255.0,260.0" fill="#2f58d8"/>
<polygon points="196.1,171.1 203.5,171.1 203.5,179.0 205.5,179.0 205.5,204.6 207.7,204.6 208.5,220.0 210.0,236.0 210.0,242.0 196.1,242.0" fill="#138c7c"/>
<polygon points="203.5,171.1 206.5,171.1 206.5,185.0 205.5,185.0 205.5,179.0 203.5,179.0" fill="#f0f000"/>
<polygon points="206.5,171.1 209.0,171.1 209.0,190.0 207.5,200.0 206.5,185.0" fill="#b0e400"/>
<polygon points="196.1,240.5 206.0,240.5 210.0,242.0 212.0,248.0 215.5,253.8 213.0,253.8 205.0,248.0 196.1,243.8" fill="#3c46f0"/>
<polygon points="196.1,236.0 209.0,237.5 210.0,242.0 206.0,240.5 196.1,240.5" fill="#2664b8"/>
<polygon points="196.1,243.8 205.0,248.0 213.0,253.8 216.6,255.5 222.0,265.0 227.2,272.1 228.5,275.0 196.1,275.0" fill="#12c012"/>
<polygon points="216.6,255.5 218.8,257.1 224.9,258.2 236.0,259.5 252.0,262.5 252.0,275.0 228.5,275.0 227.2,272.1 222.0,265.0" fill="url(#dyw)"/>
<polygon points="233.3,171.1 250.3,171.1 256.0,177.0 261.0,183.0 264.0,188.0 263.0,192.0 258.0,190.0 251.0,184.0 243.0,177.5" fill="#3c46f0"/>
<polygon points="263.0,171.1 268.0,171.1 273.0,178.0 279.0,187.0 277.5,190.0 272.0,184.0 266.0,177.0" fill="#3c46f0"/>
<polygon points="281.4,195.1 292.0,198.5 303.8,202.8 303.8,208.8 295.0,205.0 283.8,200.4" fill="#eef000"/>
<polygon points="295.6,206.0 303.8,208.8 303.8,216.0 298.0,213.0" fill="#08a848"/>
<polygon points="285.5,206.4 288.5,209.9 295.6,215.9 303.8,220.6 303.8,237.9 301.0,237.9 295.6,232.5 289.7,226.6 283.8,220.6 279.0,217.1 280.2,212.3" fill="url(#dyr)"/>
<rect x="252.4" y="201.9" width="2.2" height="2.2" fill="#f0f000"/>
<rect x="254.4" y="204.4" width="2.2" height="2.2" fill="#f0f000"/>
<rect x="256.4" y="207.4" width="2.2" height="2.2" fill="#f0f000"/>
<rect x="267.9" y="184.4" width="2.2" height="2.2" fill="#f0f000"/>
<rect x="269.9" y="186.4" width="2.2" height="2.2" fill="#f0f000"/>
<rect x="280.9" y="194.4" width="2.2" height="2.2" fill="#f0f000"/>
<rect x="261.4" y="212.4" width="2.2" height="2.2" fill="#3c46f0"/>
<rect x="263.9" y="214.4" width="2.2" height="2.2" fill="#3c46f0"/>
<rect x="266.4" y="215.9" width="2.2" height="2.2" fill="#3c46f0"/>
<rect x="268.9" y="217.4" width="2.2" height="2.2" fill="#3c46f0"/>
<rect x="283.4" y="200.9" width="2.2" height="2.2" fill="#3c46f0"/>
<rect x="285.4" y="202.9" width="2.2" height="2.2" fill="#3c46f0"/>
</svg>
<rect x="209.4" y="208.9" width="3" height="2.7" fill="#ee1111"/>
<text x="213.6" y="214.8" font-size="9.6" fill="#111" text-anchor="start">(110,230)</text>
<text x="143.5" y="162.0" font-size="13.2" text-anchor="start" letter-spacing="0.8">(d)</text>
<rect x="196.1" y="171.1" width="107.7" height="103.2" fill="none" stroke="#444" stroke-opacity="0.45" stroke-width="0.6"/>
<line x1="206.9" y1="274.3" x2="206.9" y2="276.8" stroke="#888" stroke-width="0.8"/>
<text x="206.9" y="287.0" font-size="11" text-anchor="middle" >100</text>
<line x1="228.3" y1="274.3" x2="228.3" y2="276.8" stroke="#888" stroke-width="0.8"/>
<text x="228.3" y="287.0" font-size="11" text-anchor="middle" >150</text>
<line x1="249.8" y1="274.3" x2="249.8" y2="276.8" stroke="#888" stroke-width="0.8"/>
<text x="249.8" y="287.0" font-size="11" text-anchor="middle" >200</text>
<line x1="271.2" y1="274.3" x2="271.2" y2="276.8" stroke="#888" stroke-width="0.8"/>
<text x="271.2" y="287.0" font-size="11" text-anchor="middle" >250</text>
<line x1="292.7" y1="274.3" x2="292.7" y2="276.8" stroke="#888" stroke-width="0.8"/>
<text x="292.7" y="287.0" font-size="11" text-anchor="middle" >300</text>
<line x1="193.1" y1="264.7" x2="196.1" y2="264.7" stroke="#888" stroke-width="0.8"/>
<text x="192.5" y="268.4" font-size="11" text-anchor="end" >100</text>
<line x1="193.1" y1="244.0" x2="196.1" y2="244.0" stroke="#888" stroke-width="0.8"/>
<text x="192.5" y="247.7" font-size="11" text-anchor="end" >150</text>
<line x1="193.1" y1="223.2" x2="196.1" y2="223.2" stroke="#888" stroke-width="0.8"/>
<text x="192.5" y="226.9" font-size="11" text-anchor="end" >200</text>
<line x1="193.1" y1="202.5" x2="196.1" y2="202.5" stroke="#888" stroke-width="0.8"/>
<text x="192.5" y="206.2" font-size="11" text-anchor="end" >250</text>
<line x1="193.1" y1="181.8" x2="196.1" y2="181.8" stroke="#888" stroke-width="0.8"/>
<text x="192.5" y="185.5" font-size="11" text-anchor="end" >300</text>
<text x="250.5" y="303.3" font-size="12" text-anchor="middle"><tspan font-style="italic">W</tspan> (nm)</text>
<text transform="translate(169.3,221.6) rotate(-90)" font-size="12" text-anchor="middle"><tspan font-style="italic">L</tspan> (nm)</text>
<defs><linearGradient id="cb3" x1="0" y1="0" x2="0" y2="1"><stop offset="0.00" stop-color="#f8f800"/><stop offset="0.06" stop-color="#f0f000"/><stop offset="0.12" stop-color="#b8e600"/><stop offset="0.22" stop-color="#60d400"/><stop offset="0.26" stop-color="#10c818"/><stop offset="0.40" stop-color="#00c020"/><stop offset="0.54" stop-color="#00b030"/><stop offset="0.60" stop-color="#04a048"/><stop offset="0.70" stop-color="#168a80"/><stop offset="0.81" stop-color="#2a68b0"/><stop offset="0.94" stop-color="#3c48e8"/><stop offset="1.00" stop-color="#4040f0"/></linearGradient></defs>
<rect x="308.0" y="171.8" width="12.5" height="101.4" fill="url(#cb3)" stroke="#bbb" stroke-width="0.6"/>
<line x1="320.5" y1="173.3" x2="322.5" y2="173.3" stroke="#888" stroke-width="0.8"/>
<line x1="320.5" y1="271.70000000000005" x2="322.5" y2="271.70000000000005" stroke="#888" stroke-width="0.8"/>
<text x="325.5" y="176.7" font-size="10.2" text-anchor="start" >6.00</text>
<text x="325.0" y="275.1" font-size="10.2" text-anchor="start" >−6.00</text>
<text x="353.9" y="163.4" font-size="13.2" text-anchor="start" letter-spacing="0.8">(e)</text>
<rect x="402.0" y="170.7" width="105.19999999999999" height="103.80000000000001" fill="#00fafa"/>
<defs><g id="ed"><ellipse rx="2.3" ry="1.5" fill="#9c9aee"/><ellipse rx="1.6" ry="0.85" fill="#050507"/><ellipse cx="-0.7" rx="0.7" ry="0.45" fill="#109a10"/></g><g id="em"><ellipse rx="2.3" ry="1.5" fill="#a09cee"/><ellipse rx="1.55" ry="0.8" fill="#080808"/><ellipse cx="-0.55" rx="0.9" ry="0.55" fill="#14c414"/></g><g id="ei"><ellipse rx="2.3" ry="1.5" fill="#a4a0ee"/><ellipse rx="1.5" ry="0.75" fill="#0c280c"/><ellipse cx="-0.4" rx="1.05" ry="0.6" fill="#18cc18"/></g><g id="ec"><ellipse rx="1.5" ry="0.85" fill="#a4a0ee"/><ellipse rx="1.05" ry="0.5" fill="#18c418"/></g><g id="ev"><ellipse rx="2.5" ry="1.75" fill="#a09cee"/><ellipse rx="1.5" ry="0.8" fill="#0a0a0a"/><ellipse cx="-0.5" rx="0.95" ry="0.55" fill="#16c616"/></g></defs>
<use href="#ed" transform="translate(404.5 172.5) rotate(1035)"/><use href="#ed" transform="translate(408.2 172.5) rotate(1037)"/><use href="#ed" transform="translate(411.9 172.5) rotate(1040)"/><use href="#ed" transform="translate(415.6 172.5) rotate(1042)"/><use href="#ed" transform="translate(419.3 172.5) rotate(1045)"/><use href="#ed" transform="translate(423.0 172.5) rotate(1048)"/><use href="#ed" transform="translate(426.7 172.5) rotate(1051)"/><use href="#ed" transform="translate(430.4 172.5) rotate(1054)"/><use href="#ed" transform="translate(434.1 172.5) rotate(1058)"/><use href="#ed" transform="translate(437.8 172.5) rotate(1062)"/><use href="#ed" transform="translate(441.5 172.5) rotate(1065)"/><use href="#ed" transform="translate(445.2 172.5) rotate(1070)"/><use href="#ed" transform="translate(448.9 172.5) rotate(1074)"/><use href="#ed" transform="translate(452.6 172.5) rotate(1078)"/><use href="#ed" transform="translate(456.3 172.5) rotate(1082)"/><use href="#ed" transform="translate(460.0 172.5) rotate(1086)"/><use href="#ed" transform="translate(463.7 172.5) rotate(1090)"/><use href="#ed" transform="translate(467.4 172.5) rotate(1095)"/><use href="#ed" transform="translate(471.1 172.5) rotate(1098)"/><use href="#ed" transform="translate(474.8 172.5) rotate(1102)"/><use href="#ed" transform="translate(478.5 172.5) rotate(1106)"/><use href="#ed" transform="translate(482.2 172.5) rotate(1109)"/><use href="#ed" transform="translate(485.9 172.5) rotate(1112)"/><use href="#ed" transform="translate(489.6 172.5) rotate(1115)"/><use href="#ed" transform="translate(493.3 172.5) rotate(1118)"/><use href="#ed" transform="translate(497.0 172.5) rotate(1120)"/><use href="#ed" transform="translate(500.7 172.5) rotate(1123)"/><use href="#ed" transform="translate(504.4 172.5) rotate(1125)"/><use href="#ed" transform="translate(404.5 176.2) rotate(1033)"/><use href="#ed" transform="translate(408.2 176.2) rotate(945)"/><use href="#ed" transform="translate(411.9 176.2) rotate(947)"/><use href="#ed" transform="translate(415.6 176.2) rotate(950)"/><use href="#ed" transform="translate(419.3 176.2) rotate(953)"/><use href="#ed" transform="translate(423.0 176.2) rotate(956)"/><use href="#ed" transform="translate(426.7 176.2) rotate(959)"/><use href="#ed" transform="translate(430.4 176.2) rotate(963)"/><use href="#ed" transform="translate(434.1 176.2) rotate(966)"/><use href="#ed" transform="translate(437.8 176.2) rotate(970)"/><use href="#ed" transform="translate(441.5 176.2) rotate(974)"/><use href="#ed" transform="translate(445.2 176.2) rotate(979)"/><use href="#ed" transform="translate(448.9 176.2) rotate(983)"/><use href="#ed" transform="translate(452.6 176.2) rotate(988)"/><use href="#ed" transform="translate(456.3 176.2) rotate(992)"/><use href="#ed" transform="translate(460.0 176.2) rotate(997)"/><use href="#ed" transform="translate(463.7 176.2) rotate(1001)"/><use href="#ed" transform="translate(467.4 176.2) rotate(1006)"/><use href="#ed" transform="translate(471.1 176.2) rotate(1010)"/><use href="#ed" transform="translate(474.8 176.2) rotate(1014)"/><use href="#ed" transform="translate(478.5 176.2) rotate(1017)"/><use href="#ed" transform="translate(482.2 176.2) rotate(1021)"/><use href="#ed" transform="translate(485.9 176.2) rotate(1024)"/><use href="#ed" transform="translate(489.6 176.2) rotate(1027)"/><use href="#ed" transform="translate(493.3 176.2) rotate(1030)"/><use href="#ed" transform="translate(497.0 176.2) rotate(1033)"/><use href="#ed" transform="translate(500.7 176.2) rotate(1035)"/><use href="#ed" transform="translate(504.4 176.2) rotate(1127)"/><use href="#ed" transform="translate(404.5 179.9) rotate(1030)"/><use href="#ed" transform="translate(408.2 179.9) rotate(943)"/><use href="#ed" transform="translate(411.9 179.9) rotate(855)"/><use href="#ed" transform="translate(415.6 179.9) rotate(858)"/><use href="#ed" transform="translate(419.3 179.9) rotate(860)"/><use href="#ed" transform="translate(423.0 179.9) rotate(864)"/><use href="#ed" transform="translate(426.7 179.9) rotate(867)"/><use href="#ed" transform="translate(430.4 179.9) rotate(871)"/><use href="#ed" transform="translate(434.1 179.9) rotate(874)"/><use href="#ed" transform="translate(437.8 179.9) rotate(879)"/><use href="#ed" transform="translate(441.5 179.9) rotate(883)"/><use href="#ed" transform="translate(445.2 179.9) rotate(888)"/><use href="#ed" transform="translate(448.9 179.9) rotate(893)"/><use href="#ed" transform="translate(452.6 179.9) rotate(898)"/><use href="#ed" transform="translate(456.3 179.9) rotate(902)"/><use href="#ed" transform="translate(460.0 179.9) rotate(907)"/><use href="#ed" transform="translate(463.7 179.9) rotate(912)"/><use href="#ed" transform="translate(467.4 179.9) rotate(917)"/><use href="#ed" transform="translate(471.1 179.9) rotate(921)"/><use href="#ed" transform="translate(474.8 179.9) rotate(926)"/><use href="#ed" transform="translate(478.5 179.9) rotate(929)"/><use href="#ed" transform="translate(482.2 179.9) rotate(933)"/><use href="#ed" transform="translate(485.9 179.9) rotate(936)"/><use href="#ed" transform="translate(489.6 179.9) rotate(940)"/><use href="#ed" transform="translate(493.3 179.9) rotate(942)"/><use href="#ed" transform="translate(497.0 179.9) rotate(945)"/><use href="#ed" transform="translate(500.7 179.9) rotate(1037)"/><use href="#ed" transform="translate(504.4 179.9) rotate(1130)"/><use href="#ed" transform="translate(404.5 183.6) rotate(1028)"/><use href="#ed" transform="translate(408.2 183.6) rotate(940)"/><use href="#ed" transform="translate(411.9 183.6) rotate(852)"/><use href="#ed" transform="translate(415.6 183.6) rotate(765)"/><use href="#ed" transform="translate(419.3 183.6) rotate(768)"/><use href="#ed" transform="translate(423.0 183.6) rotate(771)"/><use href="#ed" transform="translate(426.7 183.6) rotate(774)"/><use href="#ed" transform="translate(430.4 183.6) rotate(778)"/><use href="#ed" transform="translate(434.1 183.6) rotate(782)"/><use href="#ed" transform="translate(437.8 183.6) rotate(787)"/><use href="#ed" transform="translate(441.5 183.6) rotate(792)"/><use href="#ed" transform="translate(445.2 183.6) rotate(797)"/><use href="#ed" transform="translate(448.9 183.6) rotate(802)"/><use href="#ed" transform="translate(452.6 183.6) rotate(807)"/><use href="#ed" transform="translate(456.3 183.6) rotate(813)"/><use href="#ed" transform="translate(460.0 183.6) rotate(818)"/><use href="#ed" transform="translate(463.7 183.6) rotate(823)"/><use href="#ed" transform="translate(467.4 183.6) rotate(828)"/><use href="#ed" transform="translate(471.1 183.6) rotate(833)"/><use href="#ed" transform="translate(474.8 183.6) rotate(838)"/><use href="#ed" transform="translate(478.5 183.6) rotate(842)"/><use href="#ed" transform="translate(482.2 183.6) rotate(846)"/><use href="#ed" transform="translate(485.9 183.6) rotate(849)"/><use href="#ed" transform="translate(489.6 183.6) rotate(852)"/><use href="#ed" transform="translate(493.3 183.6) rotate(855)"/><use href="#ed" transform="translate(497.0 183.6) rotate(948)"/><use href="#ed" transform="translate(500.7 183.6) rotate(1040)"/><use href="#ed" transform="translate(504.4 183.6) rotate(1132)"/><use href="#ed" transform="translate(404.5 187.3) rotate(1025)"/><use href="#ed" transform="translate(408.2 187.3) rotate(937)"/><use href="#ed" transform="translate(411.9 187.3) rotate(850)"/><use href="#ed" transform="translate(415.6 187.3) rotate(762)"/><use href="#ev" transform="translate(419.3 187.3) rotate(675)"/><use href="#ev" transform="translate(423.0 187.3) rotate(678)"/><use href="#ev" transform="translate(426.7 187.3) rotate(682)"/><use href="#ev" transform="translate(430.4 187.3) rotate(686)"/><use href="#ev" transform="translate(434.1 187.3) rotate(690)"/><use href="#ev" transform="translate(437.8 187.3) rotate(695)"/><use href="#ev" transform="translate(441.5 187.3) rotate(700)"/><use href="#ev" transform="translate(445.2 187.3) rotate(705)"/><use href="#ev" transform="translate(448.9 187.3) rotate(711)"/><use href="#ev" transform="translate(452.6 187.3) rotate(717)"/><use href="#ev" transform="translate(456.3 187.3) rotate(723)"/><use href="#ev" transform="translate(460.0 187.3) rotate(729)"/><use href="#ev" transform="translate(463.7 187.3) rotate(735)"/><use href="#ev" transform="translate(467.4 187.3) rotate(740)"/><use href="#ev" transform="translate(471.1 187.3) rotate(745)"/><use href="#ev" transform="translate(474.8 187.3) rotate(750)"/><use href="#ev" transform="translate(478.5 187.3) rotate(754)"/><use href="#ev" transform="translate(482.2 187.3) rotate(758)"/><use href="#ev" transform="translate(485.9 187.3) rotate(762)"/><use href="#ev" transform="translate(489.6 187.3) rotate(765)"/><use href="#ed" transform="translate(493.3 187.3) rotate(858)"/><use href="#ed" transform="translate(497.0 187.3) rotate(950)"/><use href="#ed" transform="translate(500.7 187.3) rotate(1043)"/><use href="#ed" transform="translate(504.4 187.3) rotate(1135)"/><use href="#ed" transform="translate(404.5 191.0) rotate(1022)"/><use href="#ed" transform="translate(408.2 191.0) rotate(934)"/><use href="#ed" transform="translate(411.9 191.0) rotate(846)"/><use href="#ed" transform="translate(415.6 191.0) rotate(759)"/><use href="#ev" transform="translate(419.3 191.0) rotate(672)"/><use href="#em" transform="translate(423.0 191.0) rotate(585)"/><use href="#em" transform="translate(426.7 191.0) rotate(589)"/><use href="#em" transform="translate(430.4 191.0) rotate(593)"/><use href="#em" transform="translate(434.1 191.0) rotate(597)"/><use href="#em" transform="translate(437.8 191.0) rotate(602)"/><use href="#em" transform="translate(441.5 191.0) rotate(608)"/><use href="#em" transform="translate(445.2 191.0) rotate(614)"/><use href="#em" transform="translate(448.9 191.0) rotate(620)"/><use href="#em" transform="translate(452.6 191.0) rotate(627)"/><use href="#em" transform="translate(456.3 191.0) rotate(633)"/><use href="#em" transform="translate(460.0 191.0) rotate(640)"/><use href="#em" transform="translate(463.7 191.0) rotate(646)"/><use href="#em" transform="translate(467.4 191.0) rotate(652)"/><use href="#em" transform="translate(471.1 191.0) rotate(658)"/><use href="#em" transform="translate(474.8 191.0) rotate(663)"/><use href="#em" transform="translate(478.5 191.0) rotate(667)"/><use href="#em" transform="translate(482.2 191.0) rotate(671)"/><use href="#em" transform="translate(485.9 191.0) rotate(675)"/><use href="#ev" transform="translate(489.6 191.0) rotate(768)"/><use href="#ed" transform="translate(493.3 191.0) rotate(861)"/><use href="#ed" transform="translate(497.0 191.0) rotate(954)"/><use href="#ed" transform="translate(500.7 191.0) rotate(1046)"/><use href="#ed" transform="translate(504.4 191.0) rotate(1138)"/><use href="#ed" transform="translate(404.5 194.7) rotate(1019)"/><use href="#ed" transform="translate(408.2 194.7) rotate(931)"/><use href="#ed" transform="translate(411.9 194.7) rotate(843)"/><use href="#ed" transform="translate(415.6 194.7) rotate(756)"/><use href="#ev" transform="translate(419.3 194.7) rotate(668)"/><use href="#em" transform="translate(423.0 194.7) rotate(581)"/><use href="#ev" transform="translate(426.7 194.7) rotate(495)"/><use href="#ev" transform="translate(430.4 194.7) rotate(499)"/><use href="#ev" transform="translate(434.1 194.7) rotate(504)"/><use href="#ev" transform="translate(437.8 194.7) rotate(509)"/><use href="#ev" transform="translate(441.5 194.7) rotate(515)"/><use href="#ev" transform="translate(445.2 194.7) rotate(522)"/><use href="#ev" transform="translate(448.9 194.7) rotate(529)"/><use href="#ev" transform="translate(452.6 194.7) rotate(536)"/><use href="#ev" transform="translate(456.3 194.7) rotate(544)"/><use href="#ev" transform="translate(460.0 194.7) rotate(551)"/><use href="#ev" transform="translate(463.7 194.7) rotate(558)"/><use href="#ev" transform="translate(467.4 194.7) rotate(565)"/><use href="#ev" transform="translate(471.1 194.7) rotate(571)"/><use href="#ev" transform="translate(474.8 194.7) rotate(576)"/><use href="#ev" transform="translate(478.5 194.7) rotate(581)"/><use href="#ev" transform="translate(482.2 194.7) rotate(585)"/><use href="#em" transform="translate(485.9 194.7) rotate(679)"/><use href="#ev" transform="translate(489.6 194.7) rotate(772)"/><use href="#ed" transform="translate(493.3 194.7) rotate(864)"/><use href="#ed" transform="translate(497.0 194.7) rotate(957)"/><use href="#ed" transform="translate(500.7 194.7) rotate(1049)"/><use href="#ed" transform="translate(504.4 194.7) rotate(1141)"/><use href="#ed" transform="translate(404.5 198.4) rotate(1016)"/><use href="#ed" transform="translate(408.2 198.4) rotate(927)"/><use href="#ed" transform="translate(411.9 198.4) rotate(839)"/><use href="#ed" transform="translate(415.6 198.4) rotate(752)"/><use href="#ev" transform="translate(419.3 198.4) rotate(664)"/><use href="#em" transform="translate(423.0 198.4) rotate(577)"/><use href="#ev" transform="translate(426.7 198.4) rotate(491)"/><use href="#em" transform="translate(430.4 198.4) rotate(405)"/><use href="#em" transform="translate(434.1 198.4) rotate(410)"/><use href="#em" transform="translate(437.8 198.4) rotate(415)"/><use href="#em" transform="translate(441.5 198.4) rotate(422)"/><use href="#em" transform="translate(445.2 198.4) rotate(429)"/><use href="#em" transform="translate(448.9 198.4) rotate(437)"/><use href="#em" transform="translate(452.6 198.4) rotate(446)"/><use href="#em" transform="translate(456.3 198.4) rotate(454)"/><use href="#em" transform="translate(460.0 198.4) rotate(463)"/><use href="#em" transform="translate(463.7 198.4) rotate(471)"/><use href="#em" transform="translate(467.4 198.4) rotate(478)"/><use href="#em" transform="translate(471.1 198.4) rotate(485)"/><use href="#em" transform="translate(474.8 198.4) rotate(490)"/><use href="#em" transform="translate(478.5 198.4) rotate(495)"/><use href="#ev" transform="translate(482.2 198.4) rotate(589)"/><use href="#em" transform="translate(485.9 198.4) rotate(683)"/><use href="#ev" transform="translate(489.6 198.4) rotate(776)"/><use href="#ed" transform="translate(493.3 198.4) rotate(868)"/><use href="#ed" transform="translate(497.0 198.4) rotate(961)"/><use href="#ed" transform="translate(500.7 198.4) rotate(1053)"/><use href="#ed" transform="translate(504.4 198.4) rotate(1144)"/><use href="#ed" transform="translate(404.5 202.1) rotate(1012)"/><use href="#ed" transform="translate(408.2 202.1) rotate(924)"/><use href="#ed" transform="translate(411.9 202.1) rotate(836)"/><use href="#ed" transform="translate(415.6 202.1) rotate(748)"/><use href="#ev" transform="translate(419.3 202.1) rotate(660)"/><use href="#em" transform="translate(423.0 202.1) rotate(573)"/><use href="#ev" transform="translate(426.7 202.1) rotate(486)"/><use href="#em" transform="translate(430.4 202.1) rotate(400)"/><use href="#ev" transform="translate(434.1 202.1) rotate(315)"/><use href="#ev" transform="translate(437.8 202.1) rotate(321)"/><use href="#ev" transform="translate(441.5 202.1) rotate(328)"/><use href="#ev" transform="translate(445.2 202.1) rotate(336)"/><use href="#ev" transform="translate(448.9 202.1) rotate(345)"/><use href="#ev" transform="translate(452.6 202.1) rotate(355)"/><use href="#ev" transform="translate(456.3 202.1) rotate(365)"/><use href="#ev" transform="translate(460.0 202.1) rotate(375)"/><use href="#ev" transform="translate(463.7 202.1) rotate(384)"/><use href="#ev" transform="translate(467.4 202.1) rotate(392)"/><use href="#ev" transform="translate(471.1 202.1) rotate(399)"/><use href="#ev" transform="translate(474.8 202.1) rotate(405)"/><use href="#em" transform="translate(478.5 202.1) rotate(500)"/><use href="#ev" transform="translate(482.2 202.1) rotate(594)"/><use href="#em" transform="translate(485.9 202.1) rotate(687)"/><use href="#ev" transform="translate(489.6 202.1) rotate(780)"/><use href="#ed" transform="translate(493.3 202.1) rotate(872)"/><use href="#ed" transform="translate(497.0 202.1) rotate(964)"/><use href="#ed" transform="translate(500.7 202.1) rotate(1056)"/><use href="#ed" transform="translate(504.4 202.1) rotate(1148)"/><use href="#ed" transform="translate(404.5 205.8) rotate(1008)"/><use href="#ed" transform="translate(408.2 205.8) rotate(920)"/><use href="#ed" transform="translate(411.9 205.8) rotate(831)"/><use href="#ed" transform="translate(415.6 205.8) rotate(743)"/><use href="#ev" transform="translate(419.3 205.8) rotate(655)"/><use href="#em" transform="translate(423.0 205.8) rotate(568)"/><use href="#ev" transform="translate(426.7 205.8) rotate(481)"/><use href="#em" transform="translate(430.4 205.8) rotate(395)"/><use href="#ev" transform="translate(434.1 205.8) rotate(309)"/><use href="#ei" transform="translate(437.8 205.8) rotate(225)"/><use href="#ei" transform="translate(441.5 205.8) rotate(232)"/><use href="#ei" transform="translate(445.2 205.8) rotate(241)"/><use href="#ei" transform="translate(448.9 205.8) rotate(252)"/><use href="#ei" transform="translate(452.6 205.8) rotate(264)"/><use href="#ei" transform="translate(456.3 205.8) rotate(276)"/><use href="#ei" transform="translate(460.0 205.8) rotate(288)"/><use href="#ei" transform="translate(463.7 205.8) rotate(299)"/><use href="#ei" transform="translate(467.4 205.8) rotate(308)"/><use href="#ei" transform="translate(471.1 205.8) rotate(315)"/><use href="#ev" transform="translate(474.8 205.8) rotate(411)"/><use href="#em" transform="translate(478.5 205.8) rotate(505)"/><use href="#ev" transform="translate(482.2 205.8) rotate(599)"/><use href="#em" transform="translate(485.9 205.8) rotate(692)"/><use href="#ev" transform="translate(489.6 205.8) rotate(785)"/><use href="#ed" transform="translate(493.3 205.8) rotate(877)"/><use href="#ed" transform="translate(497.0 205.8) rotate(969)"/><use href="#ed" transform="translate(500.7 205.8) rotate(1060)"/><use href="#ed" transform="translate(504.4 205.8) rotate(1152)"/><use href="#ed" transform="translate(404.5 209.5) rotate(1005)"/><use href="#ed" transform="translate(408.2 209.5) rotate(916)"/><use href="#ed" transform="translate(411.9 209.5) rotate(827)"/><use href="#ed" transform="translate(415.6 209.5) rotate(738)"/><use href="#ev" transform="translate(419.3 209.5) rotate(650)"/><use href="#em" transform="translate(423.0 209.5) rotate(562)"/><use href="#ev" transform="translate(426.7 209.5) rotate(475)"/><use href="#em" transform="translate(430.4 209.5) rotate(388)"/><use href="#ev" transform="translate(434.1 209.5) rotate(302)"/><use href="#ei" transform="translate(437.8 209.5) rotate(218)"/><use href="#ev" transform="translate(441.5 209.5) rotate(135)"/><use href="#ev" transform="translate(445.2 209.5) rotate(144)"/><use href="#ev" transform="translate(448.9 209.5) rotate(157)"/><use href="#ev" transform="translate(452.6 209.5) rotate(172)"/><use href="#ev" transform="translate(456.3 209.5) rotate(188)"/><use href="#ev" transform="translate(460.0 209.5) rotate(203)"/><use href="#ev" transform="translate(463.7 209.5) rotate(216)"/><use href="#ev" transform="translate(467.4 209.5) rotate(225)"/><use href="#ei" transform="translate(471.1 209.5) rotate(322)"/><use href="#ev" transform="translate(474.8 209.5) rotate(418)"/><use href="#em" transform="translate(478.5 209.5) rotate(512)"/><use href="#ev" transform="translate(482.2 209.5) rotate(605)"/><use href="#em" transform="translate(485.9 209.5) rotate(698)"/><use href="#ev" transform="translate(489.6 209.5) rotate(790)"/><use href="#ed" transform="translate(493.3 209.5) rotate(882)"/><use href="#ed" transform="translate(497.0 209.5) rotate(973)"/><use href="#ed" transform="translate(500.7 209.5) rotate(1064)"/><use href="#ed" transform="translate(504.4 209.5) rotate(1155)"/><use href="#ed" transform="translate(404.5 213.2) rotate(1000)"/><use href="#ed" transform="translate(408.2 213.2) rotate(911)"/><use href="#ed" transform="translate(411.9 213.2) rotate(822)"/><use href="#ed" transform="translate(415.6 213.2) rotate(733)"/><use href="#ev" transform="translate(419.3 213.2) rotate(645)"/><use href="#em" transform="translate(423.0 213.2) rotate(556)"/><use href="#ev" transform="translate(426.7 213.2) rotate(468)"/><use href="#em" transform="translate(430.4 213.2) rotate(381)"/><use href="#ev" transform="translate(434.1 213.2) rotate(294)"/><use href="#ei" transform="translate(437.8 213.2) rotate(209)"/><use href="#ev" transform="translate(441.5 213.2) rotate(126)"/><use href="#ei" transform="translate(445.2 213.2) rotate(45)"/><use href="#ei" transform="translate(448.9 213.2) rotate(59)"/><use href="#ei" transform="translate(452.6 213.2) rotate(79)"/><use href="#ei" transform="translate(456.3 213.2) rotate(101)"/><use href="#ei" transform="translate(460.0 213.2) rotate(121)"/><use href="#ei" transform="translate(463.7 213.2) rotate(135)"/><use href="#ev" transform="translate(467.4 213.2) rotate(234)"/><use href="#ei" transform="translate(471.1 213.2) rotate(331)"/><use href="#ev" transform="translate(474.8 213.2) rotate(426)"/><use href="#em" transform="translate(478.5 213.2) rotate(519)"/><use href="#ev" transform="translate(482.2 213.2) rotate(612)"/><use href="#em" transform="translate(485.9 213.2) rotate(704)"/><use href="#ev" transform="translate(489.6 213.2) rotate(795)"/><use href="#ed" transform="translate(493.3 213.2) rotate(887)"/><use href="#ed" transform="translate(497.0 213.2) rotate(978)"/><use href="#ed" transform="translate(500.7 213.2) rotate(1069)"/><use href="#ed" transform="translate(504.4 213.2) rotate(1160)"/><use href="#ed" transform="translate(404.5 216.9) rotate(996)"/><use href="#ed" transform="translate(408.2 216.9) rotate(907)"/><use href="#ed" transform="translate(411.9 216.9) rotate(817)"/><use href="#ed" transform="translate(415.6 216.9) rotate(728)"/><use href="#ev" transform="translate(419.3 216.9) rotate(639)"/><use href="#em" transform="translate(423.0 216.9) rotate(550)"/><use href="#ev" transform="translate(426.7 216.9) rotate(461)"/><use href="#em" transform="translate(430.4 216.9) rotate(373)"/><use href="#ev" transform="translate(434.1 216.9) rotate(285)"/><use href="#ei" transform="translate(437.8 216.9) rotate(198)"/><use href="#ev" transform="translate(441.5 216.9) rotate(113)"/><use href="#ei" transform="translate(445.2 216.9) rotate(31)"/><use href="#ec" transform="translate(448.9 216.9) rotate(-45)"/><use href="#ec" transform="translate(452.6 216.9) rotate(-18)"/><use href="#ec" transform="translate(456.3 216.9) rotate(18)"/><use href="#ec" transform="translate(460.0 216.9) rotate(45)"/><use href="#ei" transform="translate(463.7 216.9) rotate(149)"/><use href="#ev" transform="translate(467.4 216.9) rotate(247)"/><use href="#ei" transform="translate(471.1 216.9) rotate(342)"/><use href="#ev" transform="translate(474.8 216.9) rotate(435)"/><use href="#em" transform="translate(478.5 216.9) rotate(527)"/><use href="#ev" transform="translate(482.2 216.9) rotate(619)"/><use href="#em" transform="translate(485.9 216.9) rotate(710)"/><use href="#ev" transform="translate(489.6 216.9) rotate(801)"/><use href="#ed" transform="translate(493.3 216.9) rotate(892)"/><use href="#ed" transform="translate(497.0 216.9) rotate(983)"/><use href="#ed" transform="translate(500.7 216.9) rotate(1073)"/><use href="#ed" transform="translate(504.4 216.9) rotate(1164)"/><use href="#ed" transform="translate(404.5 220.6) rotate(992)"/><use href="#ed" transform="translate(408.2 220.6) rotate(902)"/><use href="#ed" transform="translate(411.9 220.6) rotate(812)"/><use href="#ed" transform="translate(415.6 220.6) rotate(723)"/><use href="#ev" transform="translate(419.3 220.6) rotate(633)"/><use href="#em" transform="translate(423.0 220.6) rotate(543)"/><use href="#ev" transform="translate(426.7 220.6) rotate(454)"/><use href="#em" transform="translate(430.4 220.6) rotate(364)"/><use href="#ev" transform="translate(434.1 220.6) rotate(275)"/><use href="#ei" transform="translate(437.8 220.6) rotate(186)"/><use href="#ev" transform="translate(441.5 220.6) rotate(98)"/><use href="#ei" transform="translate(445.2 220.6) rotate(11)"/><use href="#ec" transform="translate(448.9 220.6) rotate(-72)"/><use href="#ei" transform="translate(452.6 220.6) rotate(-135)"/><use href="#ei" transform="translate(456.3 220.6) rotate(-45)"/><use href="#ec" transform="translate(460.0 220.6) rotate(72)"/><use href="#ei" transform="translate(463.7 220.6) rotate(169)"/><use href="#ev" transform="translate(467.4 220.6) rotate(262)"/><use href="#ei" transform="translate(471.1 220.6) rotate(354)"/><use href="#ev" transform="translate(474.8 220.6) rotate(445)"/><use href="#em" transform="translate(478.5 220.6) rotate(536)"/><use href="#ev" transform="translate(482.2 220.6) rotate(626)"/><use href="#em" transform="translate(485.9 220.6) rotate(717)"/><use href="#ev" transform="translate(489.6 220.6) rotate(807)"/><use href="#ed" transform="translate(493.3 220.6) rotate(897)"/><use href="#ed" transform="translate(497.0 220.6) rotate(988)"/><use href="#ed" transform="translate(500.7 220.6) rotate(1078)"/><use href="#ed" transform="translate(504.4 220.6) rotate(1168)"/><use href="#ed" transform="translate(404.5 224.3) rotate(1348)"/><use href="#ed" transform="translate(408.2 224.3) rotate(1258)"/><use href="#ed" transform="translate(411.9 224.3) rotate(1168)"/><use href="#ed" transform="translate(415.6 224.3) rotate(1077)"/><use href="#ev" transform="translate(419.3 224.3) rotate(987)"/><use href="#em" transform="translate(423.0 224.3) rotate(897)"/><use href="#ev" transform="translate(426.7 224.3) rotate(806)"/><use href="#em" transform="translate(430.4 224.3) rotate(716)"/><use href="#ev" transform="translate(434.1 224.3) rotate(625)"/><use href="#ei" transform="translate(437.8 224.3) rotate(534)"/><use href="#ev" transform="translate(441.5 224.3) rotate(442)"/><use href="#ei" transform="translate(445.2 224.3) rotate(349)"/><use href="#ec" transform="translate(448.9 224.3) rotate(252)"/><use href="#ei" transform="translate(452.6 224.3) rotate(135)"/><use href="#ei" transform="translate(456.3 224.3) rotate(45)"/><use href="#ec" transform="translate(460.0 224.3) rotate(108)"/><use href="#ei" transform="translate(463.7 224.3) rotate(191)"/><use href="#ev" transform="translate(467.4 224.3) rotate(278)"/><use href="#ei" transform="translate(471.1 224.3) rotate(366)"/><use href="#ev" transform="translate(474.8 224.3) rotate(455)"/><use href="#em" transform="translate(478.5 224.3) rotate(544)"/><use href="#ev" transform="translate(482.2 224.3) rotate(634)"/><use href="#em" transform="translate(485.9 224.3) rotate(723)"/><use href="#ev" transform="translate(489.6 224.3) rotate(813)"/><use href="#ed" transform="translate(493.3 224.3) rotate(903)"/><use href="#ed" transform="translate(497.0 224.3) rotate(992)"/><use href="#ed" transform="translate(500.7 224.3) rotate(1082)"/><use href="#ed" transform="translate(504.4 224.3) rotate(1172)"/><use href="#ed" transform="translate(404.5 228.0) rotate(1344)"/><use href="#ed" transform="translate(408.2 228.0) rotate(1253)"/><use href="#ed" transform="translate(411.9 228.0) rotate(1163)"/><use href="#ed" transform="translate(415.6 228.0) rotate(1072)"/><use href="#ev" transform="translate(419.3 228.0) rotate(981)"/><use href="#em" transform="translate(423.0 228.0) rotate(890)"/><use href="#ev" transform="translate(426.7 228.0) rotate(799)"/><use href="#em" transform="translate(430.4 228.0) rotate(707)"/><use href="#ev" transform="translate(434.1 228.0) rotate(615)"/><use href="#ei" transform="translate(437.8 228.0) rotate(522)"/><use href="#ev" transform="translate(441.5 228.0) rotate(427)"/><use href="#ei" transform="translate(445.2 228.0) rotate(329)"/><use href="#ec" transform="translate(448.9 228.0) rotate(225)"/><use href="#ec" transform="translate(452.6 228.0) rotate(198)"/><use href="#ec" transform="translate(456.3 228.0) rotate(162)"/><use href="#ec" transform="translate(460.0 228.0) rotate(135)"/><use href="#ei" transform="translate(463.7 228.0) rotate(211)"/><use href="#ev" transform="translate(467.4 228.0) rotate(293)"/><use href="#ei" transform="translate(471.1 228.0) rotate(378)"/><use href="#ev" transform="translate(474.8 228.0) rotate(465)"/><use href="#em" transform="translate(478.5 228.0) rotate(553)"/><use href="#ev" transform="translate(482.2 228.0) rotate(641)"/><use href="#em" transform="translate(485.9 228.0) rotate(730)"/><use href="#ev" transform="translate(489.6 228.0) rotate(819)"/><use href="#ed" transform="translate(493.3 228.0) rotate(908)"/><use href="#ed" transform="translate(497.0 228.0) rotate(997)"/><use href="#ed" transform="translate(500.7 228.0) rotate(1087)"/><use href="#ed" transform="translate(504.4 228.0) rotate(1176)"/><use href="#ed" transform="translate(404.5 231.7) rotate(1340)"/><use href="#ed" transform="translate(408.2 231.7) rotate(1249)"/><use href="#ed" transform="translate(411.9 231.7) rotate(1158)"/><use href="#ed" transform="translate(415.6 231.7) rotate(1067)"/><use href="#ev" transform="translate(419.3 231.7) rotate(975)"/><use href="#em" transform="translate(423.0 231.7) rotate(884)"/><use href="#ev" transform="translate(426.7 231.7) rotate(792)"/><use href="#em" transform="translate(430.4 231.7) rotate(699)"/><use href="#ev" transform="translate(434.1 231.7) rotate(606)"/><use href="#ei" transform="translate(437.8 231.7) rotate(511)"/><use href="#ev" transform="translate(441.5 231.7) rotate(414)"/><use href="#ei" transform="translate(445.2 231.7) rotate(315)"/><use href="#ei" transform="translate(448.9 231.7) rotate(301)"/><use href="#ei" transform="translate(452.6 231.7) rotate(281)"/><use href="#ei" transform="translate(456.3 231.7) rotate(259)"/><use href="#ei" transform="translate(460.0 231.7) rotate(239)"/><use href="#ei" transform="translate(463.7 231.7) rotate(225)"/><use href="#ev" transform="translate(467.4 231.7) rotate(306)"/><use href="#ei" transform="translate(471.1 231.7) rotate(389)"/><use href="#ev" transform="translate(474.8 231.7) rotate(474)"/><use href="#em" transform="translate(478.5 231.7) rotate(561)"/><use href="#ev" transform="translate(482.2 231.7) rotate(648)"/><use href="#em" transform="translate(485.9 231.7) rotate(736)"/><use href="#ev" transform="translate(489.6 231.7) rotate(825)"/><use href="#ed" transform="translate(493.3 231.7) rotate(913)"/><use href="#ed" transform="translate(497.0 231.7) rotate(1002)"/><use href="#ed" transform="translate(500.7 231.7) rotate(1091)"/><use href="#ed" transform="translate(504.4 231.7) rotate(1180)"/><use href="#ed" transform="translate(404.5 235.4) rotate(1335)"/><use href="#ed" transform="translate(408.2 235.4) rotate(1244)"/><use href="#ed" transform="translate(411.9 235.4) rotate(1153)"/><use href="#ed" transform="translate(415.6 235.4) rotate(1062)"/><use href="#ev" transform="translate(419.3 235.4) rotate(970)"/><use href="#em" transform="translate(423.0 235.4) rotate(878)"/><use href="#ev" transform="translate(426.7 235.4) rotate(785)"/><use href="#em" transform="translate(430.4 235.4) rotate(692)"/><use href="#ev" transform="translate(434.1 235.4) rotate(598)"/><use href="#ei" transform="translate(437.8 235.4) rotate(502)"/><use href="#ev" transform="translate(441.5 235.4) rotate(405)"/><use href="#ev" transform="translate(445.2 235.4) rotate(396)"/><use href="#ev" transform="translate(448.9 235.4) rotate(383)"/><use href="#ev" transform="translate(452.6 235.4) rotate(368)"/><use href="#ev" transform="translate(456.3 235.4) rotate(352)"/><use href="#ev" transform="translate(460.0 235.4) rotate(337)"/><use href="#ev" transform="translate(463.7 235.4) rotate(324)"/><use href="#ev" transform="translate(467.4 235.4) rotate(315)"/><use href="#ei" transform="translate(471.1 235.4) rotate(398)"/><use href="#ev" transform="translate(474.8 235.4) rotate(482)"/><use href="#em" transform="translate(478.5 235.4) rotate(568)"/><use href="#ev" transform="translate(482.2 235.4) rotate(655)"/><use href="#em" transform="translate(485.9 235.4) rotate(742)"/><use href="#ev" transform="translate(489.6 235.4) rotate(830)"/><use href="#ed" transform="translate(493.3 235.4) rotate(918)"/><use href="#ed" transform="translate(497.0 235.4) rotate(1007)"/><use href="#ed" transform="translate(500.7 235.4) rotate(1096)"/><use href="#ed" transform="translate(504.4 235.4) rotate(1185)"/><use href="#ed" transform="translate(404.5 239.1) rotate(1332)"/><use href="#ed" transform="translate(408.2 239.1) rotate(1240)"/><use href="#ed" transform="translate(411.9 239.1) rotate(1149)"/><use href="#ed" transform="translate(415.6 239.1) rotate(1057)"/><use href="#ev" transform="translate(419.3 239.1) rotate(965)"/><use href="#em" transform="translate(423.0 239.1) rotate(872)"/><use href="#ev" transform="translate(426.7 239.1) rotate(779)"/><use href="#em" transform="translate(430.4 239.1) rotate(685)"/><use href="#ev" transform="translate(434.1 239.1) rotate(591)"/><use href="#ei" transform="translate(437.8 239.1) rotate(495)"/><use href="#ei" transform="translate(441.5 239.1) rotate(488)"/><use href="#ei" transform="translate(445.2 239.1) rotate(479)"/><use href="#ei" transform="translate(448.9 239.1) rotate(468)"/><use href="#ei" transform="translate(452.6 239.1) rotate(456)"/><use href="#ei" transform="translate(456.3 239.1) rotate(444)"/><use href="#ei" transform="translate(460.0 239.1) rotate(432)"/><use href="#ei" transform="translate(463.7 239.1) rotate(421)"/><use href="#ei" transform="translate(467.4 239.1) rotate(412)"/><use href="#ei" transform="translate(471.1 239.1) rotate(405)"/><use href="#ev" transform="translate(474.8 239.1) rotate(489)"/><use href="#em" transform="translate(478.5 239.1) rotate(575)"/><use href="#ev" transform="translate(482.2 239.1) rotate(661)"/><use href="#em" transform="translate(485.9 239.1) rotate(748)"/><use href="#ev" transform="translate(489.6 239.1) rotate(835)"/><use href="#ed" transform="translate(493.3 239.1) rotate(923)"/><use href="#ed" transform="translate(497.0 239.1) rotate(1011)"/><use href="#ed" transform="translate(500.7 239.1) rotate(1100)"/><use href="#ed" transform="translate(504.4 239.1) rotate(1188)"/><use href="#ed" transform="translate(404.5 242.8) rotate(1328)"/><use href="#ed" transform="translate(408.2 242.8) rotate(1236)"/><use href="#ed" transform="translate(411.9 242.8) rotate(1144)"/><use href="#ed" transform="translate(415.6 242.8) rotate(1052)"/><use href="#ev" transform="translate(419.3 242.8) rotate(960)"/><use href="#em" transform="translate(423.0 242.8) rotate(867)"/><use href="#ev" transform="translate(426.7 242.8) rotate(774)"/><use href="#em" transform="translate(430.4 242.8) rotate(680)"/><use href="#ev" transform="translate(434.1 242.8) rotate(585)"/><use href="#ev" transform="translate(437.8 242.8) rotate(579)"/><use href="#ev" transform="translate(441.5 242.8) rotate(572)"/><use href="#ev" transform="translate(445.2 242.8) rotate(564)"/><use href="#ev" transform="translate(448.9 242.8) rotate(555)"/><use href="#ev" transform="translate(452.6 242.8) rotate(545)"/><use href="#ev" transform="translate(456.3 242.8) rotate(535)"/><use href="#ev" transform="translate(460.0 242.8) rotate(525)"/><use href="#ev" transform="translate(463.7 242.8) rotate(516)"/><use href="#ev" transform="translate(467.4 242.8) rotate(508)"/><use href="#ev" transform="translate(471.1 242.8) rotate(501)"/><use href="#ev" transform="translate(474.8 242.8) rotate(495)"/><use href="#em" transform="translate(478.5 242.8) rotate(580)"/><use href="#ev" transform="translate(482.2 242.8) rotate(666)"/><use href="#em" transform="translate(485.9 242.8) rotate(753)"/><use href="#ev" transform="translate(489.6 242.8) rotate(840)"/><use href="#ed" transform="translate(493.3 242.8) rotate(928)"/><use href="#ed" transform="translate(497.0 242.8) rotate(1016)"/><use href="#ed" transform="translate(500.7 242.8) rotate(1104)"/><use href="#ed" transform="translate(504.4 242.8) rotate(1192)"/><use href="#ed" transform="translate(404.5 246.5) rotate(1324)"/><use href="#ed" transform="translate(408.2 246.5) rotate(1233)"/><use href="#ed" transform="translate(411.9 246.5) rotate(1141)"/><use href="#ed" transform="translate(415.6 246.5) rotate(1048)"/><use href="#ev" transform="translate(419.3 246.5) rotate(956)"/><use href="#em" transform="translate(423.0 246.5) rotate(863)"/><use href="#ev" transform="translate(426.7 246.5) rotate(769)"/><use href="#em" transform="translate(430.4 246.5) rotate(675)"/><use href="#em" transform="translate(434.1 246.5) rotate(670)"/><use href="#em" transform="translate(437.8 246.5) rotate(665)"/><use href="#em" transform="translate(441.5 246.5) rotate(658)"/><use href="#em" transform="translate(445.2 246.5) rotate(651)"/><use href="#em" transform="translate(448.9 246.5) rotate(643)"/><use href="#em" transform="translate(452.6 246.5) rotate(634)"/><use href="#em" transform="translate(456.3 246.5) rotate(626)"/><use href="#em" transform="translate(460.0 246.5) rotate(617)"/><use href="#em" transform="translate(463.7 246.5) rotate(609)"/><use href="#em" transform="translate(467.4 246.5) rotate(602)"/><use href="#em" transform="translate(471.1 246.5) rotate(595)"/><use href="#em" transform="translate(474.8 246.5) rotate(590)"/><use href="#em" transform="translate(478.5 246.5) rotate(585)"/><use href="#ev" transform="translate(482.2 246.5) rotate(671)"/><use href="#em" transform="translate(485.9 246.5) rotate(757)"/><use href="#ev" transform="translate(489.6 246.5) rotate(844)"/><use href="#ed" transform="translate(493.3 246.5) rotate(932)"/><use href="#ed" transform="translate(497.0 246.5) rotate(1019)"/><use href="#ed" transform="translate(500.7 246.5) rotate(1107)"/><use href="#ed" transform="translate(504.4 246.5) rotate(1196)"/><use href="#ed" transform="translate(404.5 250.2) rotate(1321)"/><use href="#ed" transform="translate(408.2 250.2) rotate(1229)"/><use href="#ed" transform="translate(411.9 250.2) rotate(1137)"/><use href="#ed" transform="translate(415.6 250.2) rotate(1044)"/><use href="#ev" transform="translate(419.3 250.2) rotate(952)"/><use href="#em" transform="translate(423.0 250.2) rotate(859)"/><use href="#ev" transform="translate(426.7 250.2) rotate(765)"/><use href="#ev" transform="translate(430.4 250.2) rotate(761)"/><use href="#ev" transform="translate(434.1 250.2) rotate(756)"/><use href="#ev" transform="translate(437.8 250.2) rotate(751)"/><use href="#ev" transform="translate(441.5 250.2) rotate(745)"/><use href="#ev" transform="translate(445.2 250.2) rotate(738)"/><use href="#ev" transform="translate(448.9 250.2) rotate(731)"/><use href="#ev" transform="translate(452.6 250.2) rotate(724)"/><use href="#ev" transform="translate(456.3 250.2) rotate(716)"/><use href="#ev" transform="translate(460.0 250.2) rotate(709)"/><use href="#ev" transform="translate(463.7 250.2) rotate(702)"/><use href="#ev" transform="translate(467.4 250.2) rotate(695)"/><use href="#ev" transform="translate(471.1 250.2) rotate(689)"/><use href="#ev" transform="translate(474.8 250.2) rotate(684)"/><use href="#ev" transform="translate(478.5 250.2) rotate(679)"/><use href="#ev" transform="translate(482.2 250.2) rotate(675)"/><use href="#em" transform="translate(485.9 250.2) rotate(761)"/><use href="#ev" transform="translate(489.6 250.2) rotate(848)"/><use href="#ed" transform="translate(493.3 250.2) rotate(936)"/><use href="#ed" transform="translate(497.0 250.2) rotate(1023)"/><use href="#ed" transform="translate(500.7 250.2) rotate(1111)"/><use href="#ed" transform="translate(504.4 250.2) rotate(1199)"/><use href="#ed" transform="translate(404.5 253.9) rotate(1318)"/><use href="#ed" transform="translate(408.2 253.9) rotate(1226)"/><use href="#ed" transform="translate(411.9 253.9) rotate(1134)"/><use href="#ed" transform="translate(415.6 253.9) rotate(1041)"/><use href="#ev" transform="translate(419.3 253.9) rotate(948)"/><use href="#em" transform="translate(423.0 253.9) rotate(855)"/><use href="#em" transform="translate(426.7 253.9) rotate(851)"/><use href="#em" transform="translate(430.4 253.9) rotate(847)"/><use href="#em" transform="translate(434.1 253.9) rotate(843)"/><use href="#em" transform="translate(437.8 253.9) rotate(838)"/><use href="#em" transform="translate(441.5 253.9) rotate(832)"/><use href="#em" transform="translate(445.2 253.9) rotate(826)"/><use href="#em" transform="translate(448.9 253.9) rotate(820)"/><use href="#em" transform="translate(452.6 253.9) rotate(813)"/><use href="#em" transform="translate(456.3 253.9) rotate(807)"/><use href="#em" transform="translate(460.0 253.9) rotate(800)"/><use href="#em" transform="translate(463.7 253.9) rotate(794)"/><use href="#em" transform="translate(467.4 253.9) rotate(788)"/><use href="#em" transform="translate(471.1 253.9) rotate(782)"/><use href="#em" transform="translate(474.8 253.9) rotate(777)"/><use href="#em" transform="translate(478.5 253.9) rotate(773)"/><use href="#em" transform="translate(482.2 253.9) rotate(769)"/><use href="#em" transform="translate(485.9 253.9) rotate(765)"/><use href="#ev" transform="translate(489.6 253.9) rotate(852)"/><use href="#ed" transform="translate(493.3 253.9) rotate(939)"/><use href="#ed" transform="translate(497.0 253.9) rotate(1026)"/><use href="#ed" transform="translate(500.7 253.9) rotate(1114)"/><use href="#ed" transform="translate(504.4 253.9) rotate(1202)"/><use href="#ed" transform="translate(404.5 257.6) rotate(1315)"/><use href="#ed" transform="translate(408.2 257.6) rotate(1223)"/><use href="#ed" transform="translate(411.9 257.6) rotate(1130)"/><use href="#ed" transform="translate(415.6 257.6) rotate(1038)"/><use href="#ev" transform="translate(419.3 257.6) rotate(945)"/><use href="#ev" transform="translate(423.0 257.6) rotate(942)"/><use href="#ev" transform="translate(426.7 257.6) rotate(938)"/><use href="#ev" transform="translate(430.4 257.6) rotate(934)"/><use href="#ev" transform="translate(434.1 257.6) rotate(930)"/><use href="#ev" transform="translate(437.8 257.6) rotate(925)"/><use href="#ev" transform="translate(441.5 257.6) rotate(920)"/><use href="#ev" transform="translate(445.2 257.6) rotate(915)"/><use href="#ev" transform="translate(448.9 257.6) rotate(909)"/><use href="#ev" transform="translate(452.6 257.6) rotate(903)"/><use href="#ev" transform="translate(456.3 257.6) rotate(897)"/><use href="#ev" transform="translate(460.0 257.6) rotate(891)"/><use href="#ev" transform="translate(463.7 257.6) rotate(885)"/><use href="#ev" transform="translate(467.4 257.6) rotate(880)"/><use href="#ev" transform="translate(471.1 257.6) rotate(875)"/><use href="#ev" transform="translate(474.8 257.6) rotate(870)"/><use href="#ev" transform="translate(478.5 257.6) rotate(866)"/><use href="#ev" transform="translate(482.2 257.6) rotate(862)"/><use href="#ev" transform="translate(485.9 257.6) rotate(858)"/><use href="#ev" transform="translate(489.6 257.6) rotate(855)"/><use href="#ed" transform="translate(493.3 257.6) rotate(942)"/><use href="#ed" transform="translate(497.0 257.6) rotate(1030)"/><use href="#ed" transform="translate(500.7 257.6) rotate(1117)"/><use href="#ed" transform="translate(504.4 257.6) rotate(1205)"/><use href="#ed" transform="translate(404.5 261.3) rotate(1312)"/><use href="#ed" transform="translate(408.2 261.3) rotate(1220)"/><use href="#ed" transform="translate(411.9 261.3) rotate(1128)"/><use href="#ed" transform="translate(415.6 261.3) rotate(1035)"/><use href="#ed" transform="translate(419.3 261.3) rotate(1032)"/><use href="#ed" transform="translate(423.0 261.3) rotate(1029)"/><use href="#ed" transform="translate(426.7 261.3) rotate(1026)"/><use href="#ed" transform="translate(430.4 261.3) rotate(1022)"/><use href="#ed" transform="translate(434.1 261.3) rotate(1018)"/><use href="#ed" transform="translate(437.8 261.3) rotate(1013)"/><use href="#ed" transform="translate(441.5 261.3) rotate(1008)"/><use href="#ed" transform="translate(445.2 261.3) rotate(1003)"/><use href="#ed" transform="translate(448.9 261.3) rotate(998)"/><use href="#ed" transform="translate(452.6 261.3) rotate(993)"/><use href="#ed" transform="translate(456.3 261.3) rotate(987)"/><use href="#ed" transform="translate(460.0 261.3) rotate(982)"/><use href="#ed" transform="translate(463.7 261.3) rotate(977)"/><use href="#ed" transform="translate(467.4 261.3) rotate(972)"/><use href="#ed" transform="translate(471.1 261.3) rotate(967)"/><use href="#ed" transform="translate(474.8 261.3) rotate(962)"/><use href="#ed" transform="translate(478.5 261.3) rotate(958)"/><use href="#ed" transform="translate(482.2 261.3) rotate(954)"/><use href="#ed" transform="translate(485.9 261.3) rotate(951)"/><use href="#ed" transform="translate(489.6 261.3) rotate(948)"/><use href="#ed" transform="translate(493.3 261.3) rotate(945)"/><use href="#ed" transform="translate(497.0 261.3) rotate(1032)"/><use href="#ed" transform="translate(500.7 261.3) rotate(1120)"/><use href="#ed" transform="translate(504.4 261.3) rotate(1208)"/><use href="#ed" transform="translate(404.5 265.0) rotate(1310)"/><use href="#ed" transform="translate(408.2 265.0) rotate(1217)"/><use href="#ed" transform="translate(411.9 265.0) rotate(1125)"/><use href="#ed" transform="translate(415.6 265.0) rotate(1122)"/><use href="#ed" transform="translate(419.3 265.0) rotate(1120)"/><use href="#ed" transform="translate(423.0 265.0) rotate(1116)"/><use href="#ed" transform="translate(426.7 265.0) rotate(1113)"/><use href="#ed" transform="translate(430.4 265.0) rotate(1109)"/><use href="#ed" transform="translate(434.1 265.0) rotate(1106)"/><use href="#ed" transform="translate(437.8 265.0) rotate(1101)"/><use href="#ed" transform="translate(441.5 265.0) rotate(1097)"/><use href="#ed" transform="translate(445.2 265.0) rotate(1092)"/><use href="#ed" transform="translate(448.9 265.0) rotate(1087)"/><use href="#ed" transform="translate(452.6 265.0) rotate(1082)"/><use href="#ed" transform="translate(456.3 265.0) rotate(1078)"/><use href="#ed" transform="translate(460.0 265.0) rotate(1073)"/><use href="#ed" transform="translate(463.7 265.0) rotate(1068)"/><use href="#ed" transform="translate(467.4 265.0) rotate(1063)"/><use href="#ed" transform="translate(471.1 265.0) rotate(1059)"/><use href="#ed" transform="translate(474.8 265.0) rotate(1054)"/><use href="#ed" transform="translate(478.5 265.0) rotate(1051)"/><use href="#ed" transform="translate(482.2 265.0) rotate(1047)"/><use href="#ed" transform="translate(485.9 265.0) rotate(1044)"/><use href="#ed" transform="translate(489.6 265.0) rotate(1040)"/><use href="#ed" transform="translate(493.3 265.0) rotate(1038)"/><use href="#ed" transform="translate(497.0 265.0) rotate(1035)"/><use href="#ed" transform="translate(500.7 265.0) rotate(1123)"/><use href="#ed" transform="translate(504.4 265.0) rotate(1210)"/><use href="#ed" transform="translate(404.5 268.7) rotate(1307)"/><use href="#ed" transform="translate(408.2 268.7) rotate(1215)"/><use href="#ed" transform="translate(411.9 268.7) rotate(1213)"/><use href="#ed" transform="translate(415.6 268.7) rotate(1210)"/><use href="#ed" transform="translate(419.3 268.7) rotate(1207)"/><use href="#ed" transform="translate(423.0 268.7) rotate(1204)"/><use href="#ed" transform="translate(426.7 268.7) rotate(1201)"/><use href="#ed" transform="translate(430.4 268.7) rotate(1197)"/><use href="#ed" transform="translate(434.1 268.7) rotate(1194)"/><use href="#ed" transform="translate(437.8 268.7) rotate(1190)"/><use href="#ed" transform="translate(441.5 268.7) rotate(1186)"/><use href="#ed" transform="translate(445.2 268.7) rotate(1181)"/><use href="#ed" transform="translate(448.9 268.7) rotate(1177)"/><use href="#ed" transform="translate(452.6 268.7) rotate(1172)"/><use href="#ed" transform="translate(456.3 268.7) rotate(1168)"/><use href="#ed" transform="translate(460.0 268.7) rotate(1163)"/><use href="#ed" transform="translate(463.7 268.7) rotate(1159)"/><use href="#ed" transform="translate(467.4 268.7) rotate(1154)"/><use href="#ed" transform="translate(471.1 268.7) rotate(1150)"/><use href="#ed" transform="translate(474.8 268.7) rotate(1146)"/><use href="#ed" transform="translate(478.5 268.7) rotate(1143)"/><use href="#ed" transform="translate(482.2 268.7) rotate(1139)"/><use href="#ed" transform="translate(485.9 268.7) rotate(1136)"/><use href="#ed" transform="translate(489.6 268.7) rotate(1133)"/><use href="#ed" transform="translate(493.3 268.7) rotate(1130)"/><use href="#ed" transform="translate(497.0 268.7) rotate(1127)"/><use href="#ed" transform="translate(500.7 268.7) rotate(1125)"/><use href="#ed" transform="translate(504.4 268.7) rotate(1213)"/><use href="#ed" transform="translate(404.5 272.4) rotate(1305)"/><use href="#ed" transform="translate(408.2 272.4) rotate(1303)"/><use href="#ed" transform="translate(411.9 272.4) rotate(1300)"/><use href="#ed" transform="translate(415.6 272.4) rotate(1298)"/><use href="#ed" transform="translate(419.3 272.4) rotate(1295)"/><use href="#ed" transform="translate(423.0 272.4) rotate(1292)"/><use href="#ed" transform="translate(426.7 272.4) rotate(1289)"/><use href="#ed" transform="translate(430.4 272.4) rotate(1286)"/><use href="#ed" transform="translate(434.1 272.4) rotate(1282)"/><use href="#ed" transform="translate(437.8 272.4) rotate(1278)"/><use href="#ed" transform="translate(441.5 272.4) rotate(1275)"/><use href="#ed" transform="translate(445.2 272.4) rotate(1270)"/><use href="#ed" transform="translate(448.9 272.4) rotate(1266)"/><use href="#ed" transform="translate(452.6 272.4) rotate(1262)"/><use href="#ed" transform="translate(456.3 272.4) rotate(1258)"/><use href="#ed" transform="translate(460.0 272.4) rotate(1254)"/><use href="#ed" transform="translate(463.7 272.4) rotate(1250)"/><use href="#ed" transform="translate(467.4 272.4) rotate(1245)"/><use href="#ed" transform="translate(471.1 272.4) rotate(1242)"/><use href="#ed" transform="translate(474.8 272.4) rotate(1238)"/><use href="#ed" transform="translate(478.5 272.4) rotate(1234)"/><use href="#ed" transform="translate(482.2 272.4) rotate(1231)"/><use href="#ed" transform="translate(485.9 272.4) rotate(1228)"/><use href="#ed" transform="translate(489.6 272.4) rotate(1225)"/><use href="#ed" transform="translate(493.3 272.4) rotate(1222)"/><use href="#ed" transform="translate(497.0 272.4) rotate(1220)"/><use href="#ed" transform="translate(500.7 272.4) rotate(1217)"/><use href="#ed" transform="translate(504.4 272.4) rotate(1215)"/>
</svg></body></html>
